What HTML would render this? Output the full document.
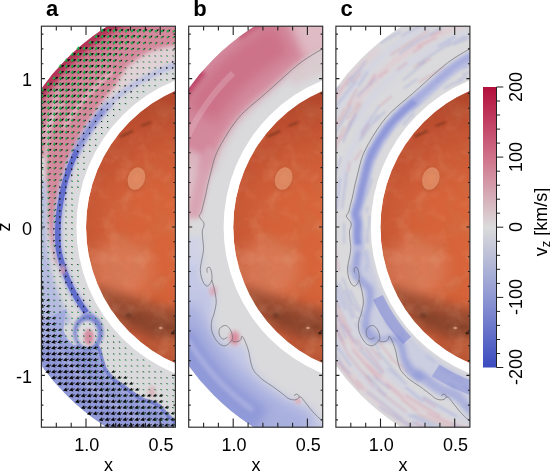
<!DOCTYPE html><html><head><meta charset="utf-8"><style>html,body{margin:0;padding:0;background:#fff;width:550px;height:471px;overflow:hidden}svg{display:block}text{font-family:"Liberation Sans",Arial,sans-serif}</style></head><body><svg width="550" height="471" viewBox="0 0 550 471"><defs><clipPath id="pc"><rect x="188.7" y="26.2" width="134" height="401"/></clipPath><clipPath id="an"><path d="M144.1,227 a237.5,237.5 0 1,0 475,0 a237.5,237.5 0 1,0 -475,0Z M223.6,227 a158,158 0 1,1 316,0 a158,158 0 1,1 -316,0Z" clip-rule="evenodd"/></clipPath><clipPath id="mc"><circle cx="381.6" cy="227" r="148.4"/></clipPath><filter id="b1" x="-50%" y="-50%" width="200%" height="200%"><feGaussianBlur stdDeviation="1"/></filter><filter id="b1_5" x="-50%" y="-50%" width="200%" height="200%"><feGaussianBlur stdDeviation="1.5"/></filter><filter id="b2" x="-50%" y="-50%" width="200%" height="200%"><feGaussianBlur stdDeviation="2"/></filter><filter id="b3" x="-50%" y="-50%" width="200%" height="200%"><feGaussianBlur stdDeviation="3"/></filter><filter id="b4" x="-50%" y="-50%" width="200%" height="200%"><feGaussianBlur stdDeviation="4"/></filter><filter id="b5" x="-50%" y="-50%" width="200%" height="200%"><feGaussianBlur stdDeviation="5"/></filter><filter id="b6" x="-50%" y="-50%" width="200%" height="200%"><feGaussianBlur stdDeviation="6"/></filter><filter id="b8" x="-50%" y="-50%" width="200%" height="200%"><feGaussianBlur stdDeviation="8"/></filter><filter id="b12" x="-50%" y="-50%" width="200%" height="200%"><feGaussianBlur stdDeviation="12"/></filter><radialGradient id="mg" gradientUnits="userSpaceOnUse" cx="366.6" cy="232" r="163.4"><stop offset="0" stop-color="#dc693b"/><stop offset="0.6" stop-color="#d46139"/><stop offset="0.86" stop-color="#c55534"/><stop offset="1" stop-color="#ad472c"/></radialGradient><filter id="txd" x="0" y="0" width="1" height="1"><feTurbulence type="fractalNoise" baseFrequency="0.05" numOctaves="3" seed="7"/><feColorMatrix type="matrix" values="0 0 0 0 0.55  0 0 0 0 0.22  0 0 0 0 0.1  1.8 0 0 0 -0.82"/></filter><filter id="txl" x="0" y="0" width="1" height="1"><feTurbulence type="fractalNoise" baseFrequency="0.06" numOctaves="3" seed="11"/><feColorMatrix type="matrix" values="0 0 0 0 0.98  0 0 0 0 0.6  0 0 0 0 0.42  0 1.8 0 0 -0.85"/></filter><linearGradient id="mtop" x1="0" y1="0" x2="0" y2="1"><stop offset="0" stop-color="#a03822" stop-opacity="0.7"/><stop offset="0.45" stop-color="#b0442a" stop-opacity="0.35"/><stop offset="1" stop-color="#b4452a" stop-opacity="0"/></linearGradient><linearGradient id="cb" x1="0" y1="0" x2="0" y2="1"><stop offset="0" stop-color="#b30f3c"/><stop offset="0.25" stop-color="#cf7189"/><stop offset="0.5" stop-color="#dbdbdb"/><stop offset="0.75" stop-color="#8f98d3"/><stop offset="1" stop-color="#3b4bbf"/></linearGradient><g id="mars" clip-path="url(#mc)"><circle cx="381.6" cy="227" r="148.4" fill="url(#mg)"/><ellipse cx="268" cy="270" rx="32" ry="30" fill="#e39a7c" opacity="0.42" filter="url(#b8)"/><rect x="233.2" y="78.6" width="148.4" height="120" fill="url(#mtop)"/><path d="M243,286 L290,300 L335,311 L335,339 L300,341 L268,326 L248,306Z" fill="#8c4a32" opacity="0.7" filter="url(#b5)"/><path d="M262,304 L300,317 L335,322 L335,333 L305,334 L275,322Z" fill="#6a3424" opacity="0.45" filter="url(#b4)"/><path d="M285,342 L335,340 L335,372 L275,372Z" fill="#a65838" opacity="0.35" filter="url(#b4)"/><ellipse cx="276" cy="315" rx="4" ry="2.2" fill="#4a2218" opacity="0.45" filter="url(#b1_5)"/><ellipse cx="320" cy="333" rx="1.8" ry="1.5" fill="#2a1410" opacity="0.8" filter="url(#b0_5)"/><ellipse cx="308" cy="328" rx="1.8" ry="1.3" fill="#e8b090" opacity="0.7" filter="url(#b0_5)"/><rect x="233.2" y="78.6" width="148.4" height="296.8" filter="url(#txd)" opacity="0.35"/><rect x="233.2" y="78.6" width="148.4" height="296.8" filter="url(#txl)" opacity="0.2"/><ellipse cx="283.1" cy="180.1" rx="9" ry="12" fill="#a84a2c" transform="rotate(18 283.1 180.1)" opacity="0.35" filter="url(#b1_5)"/><ellipse cx="283.6" cy="178.6" rx="8.5" ry="11.5" fill="#eba078" transform="rotate(18 283.6 178.6)" opacity="0.65" filter="url(#b1_8)"/><ellipse cx="284.1" cy="178.6" rx="4.5" ry="6" fill="#e28e64" transform="rotate(18 284.1 178.6)" opacity="0.5" filter="url(#b1)"/><path d="M267.6,136.8 L280,131" stroke="#5a2a1a" stroke-width="1.6" opacity="0.75" filter="url(#b1)"/><path d="M288.5,126.1 L298,122.3" stroke="#5a2a1a" stroke-width="1.6" opacity="0.65" filter="url(#b1)"/></g></defs><g transform="translate(-147.2,0)" clip-path="url(#pc)"><g clip-path="url(#an)"><rect x="188.7" y="26.2" width="134" height="401" fill="#dadadc"/><path d="M227.5,138 L231.5,131.2 L235.7,124.7 L240.3,118.3 L245.1,112.1 L250.2,106.1 L255.6,100.4 L261.5,95.2 L267.7,90.4 L274.1,85.9 L280.7,81.7 L287.5,77.8 L294.4,74.2 L301.2,70.6 L308.2,67.3 L315.3,64.3 L322.6,61.6 L330,59.3 L337.4,57.3 L344.9,55.6 L352.5,54.3 L360.2,53.2 L367.9,52.5 L375.5,52.1 L373.1,-17.9 L362.3,-17.2 L351.6,-16.2 L340.9,-14.6 L330.3,-12.6 L319.9,-10.1 L309.5,-7.1 L299.3,-3.7 L289.2,0.1 L279.3,4.4 L269.6,9.1 L260.1,14.3 L250.9,19.8 L241.9,25.8 L233.2,32.1 L224.7,38.8 L216.6,45.9 L208.8,53.4 L201.3,61.1 L194.2,69.2 L187.4,77.6 L181.1,86.3 L175.1,95.3 L169.5,104.5Z" fill="#e0d2d6" filter="url(#b2)"/><path d="M206.3,264.3 L204.9,259.2 L203.6,254.1 L202.7,249 L202.3,243.7 L202.1,238.5 L202,233.3 L202.1,228 L202.3,222.8 L202.7,217.6 L203.2,212.4 L203.9,207.3 L204.8,202.1 L205.7,197 L206.7,191.9 L207.8,186.9 L209.1,181.8 L210.5,176.9 L212.1,171.9 L213.8,167 L215.7,162.2 L217.6,157.4 L219.8,152.7 L222,148 L224.4,143.4 L227,138.9 L228.8,133.9 L231.3,129.4 L234.1,124.9 L236.8,120.5 L239.7,116.1 L242.7,111.8 L245.8,107.6 L248.9,103.2 L252,98.8 L255.2,94.5 L258.5,90.3 L262,86.1 L265,81.2 L267.9,76.1 L271.1,71 L274.6,66.3 L279.1,62.9 L283.7,59.6 L288.4,56.5 L293.2,53.5 L298.4,51.1 L303.8,49.5 L309.4,48.1 L314.9,46.8 L320.4,45.7 L325.8,44.4 L331.2,43 L336.6,41.7 L342,40.5 L347.5,39.6 L353,38.8 L358.5,38.1 L364,37.6 L369.5,37.3 L375,37.1 L373.3,-12.9 L366.3,-12.5 L359.3,-12 L352.4,-11.2 L345.5,-10.3 L338.6,-9.1 L331.8,-7.8 L324.9,-6.2 L318.2,-4.5 L311.5,-2.5 L304.8,-0.4 L298.3,2 L291.7,4.5 L285.3,7.2 L279,10.1 L272.7,13.2 L266.5,16.4 L260.4,19.9 L254.5,23.5 L248.6,27.3 L242.9,31.2 L237.2,35.3 L231.7,39.6 L226.6,44.4 L223.1,50.9 L219.7,57.4 L216.6,63.9 L213.8,70.5 L211.2,77.1 L208.8,83.7 L206.6,90.2 L204.5,96.7 L202.7,103.3 L201.2,109.8 L199.8,116.3 L198.6,122.7 L197.3,129 L196.2,135.2 L195.2,141.4 L194.5,147.6 L194,153.7 L193.6,159.8 L193.3,165.8 L193.2,171.8 L193.3,177.7 L193.6,183.6 L194,189.4 L194.7,195.2 L194.8,200.7 L194.8,206.3 L194.8,211.8 L195.1,217.2 L195.5,222.7 L196,228.1 L196.8,233.5 L197.6,238.8 L198.7,244.1 L199.8,249.3 L200.9,254.6 L201.9,259.8 L203.2,264.9Z" fill="#d48a9d" filter="url(#b2)"/><path d="M191.8,157.9 L192.5,148.6 L193.6,139.3 L195.2,129.9 L197.2,120.5 L199.1,110.7 L201.4,100.8 L204.3,90.9 L207.8,81.1 L211.5,71.1 L215.8,61.2 L220.7,51.3 L226.1,41.6 L224.2,39.3 L216.1,46.4 L208.4,53.8 L201,61.5 L194,69.5 L187.3,77.9 L181,86.5 L175,95.4 L169.5,104.5 L164.3,113.9 L159.6,123.5 L155.3,133.2 L151.4,143.2Z" fill="#d18699" filter="url(#b2)"/><path d="M209.9,92.8 L216.2,85.1 L222.9,77.6 L229.9,70.5 L237.2,63.7 L244.8,57.3 L252.7,51.2 L260.9,45.5 L269.4,40.1 L278,35.2 L286.9,30.6 L296,26.5 L305.3,22.8 L314.7,19.5 L324.3,16.7 L334,14.3 L343.8,12.3 L339.1,-14.3 L328.1,-12.1 L317.2,-9.4 L306.4,-6.2 L295.8,-2.5 L285.4,1.7 L275.2,6.3 L265.2,11.4 L255.5,17 L246,23 L236.8,29.4 L227.9,36.3 L219.3,43.5 L211.1,51.1 L203.2,59.1 L195.7,67.5 L188.6,76.2Z" fill="#c9637e" opacity="0.55" filter="url(#b4)"/><path d="M178.6,119 L183.6,110 L189.1,101.3 L194.9,92.7 L201.1,84.5 L207.7,76.5 L214.6,68.9 L221.9,61.6 L229.5,54.6 L237.4,47.9 L245.5,41.6 L254,35.7 L262.7,30.1 L271.7,25 L280.8,20.3 L274.2,6.8 L264.5,11.8 L254.9,17.3 L245.7,23.2 L236.7,29.5 L227.9,36.2 L219.5,43.3 L211.5,50.8 L203.7,58.6 L196.3,66.7 L189.3,75.2 L182.7,84 L176.5,93.1 L170.7,102.4 L165.3,112Z" fill="#b02a50" opacity="0.85" filter="url(#b2)"/><path d="M212.8,129.5 L217.6,121.5 L222.9,113.8 L228.5,106.3 L234.5,99.1 L240.8,92.2 L247.4,85.6 L254.4,79.3 L261.6,73.3 L258.5,69.4 L251.1,75.5 L244,81.9 L237.2,88.7 L230.7,95.8 L224.6,103.2 L218.8,110.9 L213.4,118.8 L208.4,127Z" fill="#ecd4da" opacity="0.5" filter="url(#b1_5)"/><path d="M186.9,148.3 L190.3,140.5 L194,132.8 L198,125.2 L202.3,117.8 L206.9,110.6 L211.8,103.6 L208.5,101.2 L203.5,108.4 L198.9,115.7 L194.5,123.3 L190.4,131 L186.7,138.8 L183.2,146.8Z" fill="#ecd4da" opacity="0.5" filter="url(#b1_5)"/><path d="M241,314.9 L236.5,308.9 L232.2,302.7 L228.2,296.3 L224.4,289.7 L221.1,282.8 L218.2,275.7 L215.5,268.5 L213.2,261.2 L211.2,253.7 L209.9,246.1 L209.6,238.3 L209.5,230.6 L209.8,222.9 L210.5,215.2 L211.5,207.6 L212.8,200.1 L214.2,192.5 L216,185.1 L218.1,177.7 L220.5,170.5 L223.3,163.3 L226.3,156.3 L229.7,149.5 L233.4,142.8 L237.2,136.2 L241.4,129.7 L245.8,123.5 L250.5,117.4 L255.4,111.6 L260.6,106 L254.3,99.6 L248.8,105.5 L243.5,111.7 L238.6,118 L234,124.6 L229.6,131.4 L225.6,138.3 L221.7,145.4 L218.1,152.6 L214.9,160 L212,167.5 L209.5,175.1 L207.3,182.9 L205.4,190.7 L203.9,198.6 L202.5,206.6 L201.5,214.6 L200.8,222.7 L200.5,230.8 L200.6,238.9 L201,247.1 L202.3,255.1 L204.4,263 L206.8,270.7 L209.5,278.3 L212.6,285.8 L216.1,293 L220,300 L224.2,306.8 L228.6,313.3 L233.3,319.7Z" fill="#a9aedf" opacity="0.9" filter="url(#b1_5)"/><path d="M259.6,104.9 L265.2,99.8 L271.3,95.2 L277.5,90.8 L283.9,86.8 L290.4,83 L297.1,79.5 L303.7,76 L310.5,72.8 L317.4,69.9 L324.5,67.3 L331.6,65.1 L338.8,63.1 L346.1,61.5 L353.5,60.2 L360.9,59.2 L368.3,58.5 L375.8,58.1 L375.5,52.1 L367.8,52.5 L360.1,53.2 L352.5,54.3 L344.9,55.6 L337.3,57.3 L329.8,59.3 L322.4,61.7 L315.2,64.4 L308,67.4 L301,70.7 L294.1,74.3 L287.2,77.9 L280.5,81.8 L273.9,86.1 L267.4,90.6 L261.2,95.4 L255.3,100.7Z" fill="#b4b9e2" opacity="0.75" filter="url(#b1_5)"/><path d="M236,311.1 L231.6,304.9 L227.6,298.6 L223.7,292 L220.3,285.1 L217.3,278.1 L214.5,270.9 L212.1,263.6 L210,256.1 L208.4,248.5 L207.9,240.8 L207.8,233.1 L208,225.3 L208.5,217.7 L209.4,210 L210.6,202.4 L212,194.9 L213.7,187.4 L215.6,180 L218,172.7 L220.6,165.5 L223.5,158.4 L226.8,151.5 L221.8,149 L218.4,156.2 L215.4,163.5 L212.6,170.9 L210.3,178.4 L208.2,186.1 L206.5,193.8 L205.1,201.6 L203.8,209.5 L202.9,217.3 L202.4,225.3 L202.2,233.3 L202.4,241.3 L202.9,249.2 L204.5,257.1 L206.7,264.8 L209.1,272.3 L211.9,279.8 L215,287 L218.6,294.1 L222.5,300.9 L226.7,307.5 L231.1,313.9Z" fill="#5a66c9" opacity="0.9" filter="url(#b1_2)"/><path d="M223.9,156.8 L227.3,149.8 L231,143 L234.8,136.3 L239,129.7 L243.4,123.4 L248.1,117.2 L253.1,111.2 L249.4,107.9 L244.2,114 L239.4,120.4 L234.8,126.9 L230.6,133.7 L226.6,140.5 L222.8,147.6 L219.4,154.7Z" fill="#6a75cd" opacity="0.55" filter="url(#b1_5)"/><path d="M218.8,321 L214.8,313.6 L211,305.9 L207.6,298.1 L204.6,290.2 L201.9,282.2 L199.6,274 L197.7,265.7 L196.1,257.4 L194.9,249 L194.1,240.5 L193.7,232 L193.7,223.5 L194,215 L193.8,206.5 L194,197.9 L193,188.9 L192.4,179.8 L143.9,167.7 L141.5,178.5 L139.5,189.4 L138.1,200.4 L137.1,211.4 L136.7,222.5 L136.7,233.5 L137.3,244.6 L138.3,255.6 L139.9,266.6 L141.9,277.4 L144.4,288.2 L147.4,298.9 L150.9,309.4 L154.9,319.7 L159.3,329.9 L164.2,339.8 L169.5,349.5Z" fill="#b2b8df" opacity="0.9" filter="url(#b2)"/><path d="M214.1,308.7 L211.3,319.8 L210.7,330.4 L214.3,338.8 L220.9,345.2 L237.8,343.1 L246.1,347 L248.6,355.8 L250.9,365.6 L255.2,373.8 L261.4,380 L268.6,385 L275.7,390.1 L282.8,395.3 L290.3,400 L299.2,401.9 L306.9,405.9 L313.4,413.7 L320.6,420.5 L328.2,427.6 L337.1,430.7 L346.3,432.5 L355.6,433.9 L365,434.9 L374.4,435.4 L373.1,471.9 L362.1,471.2 L351.1,470.1 L340.2,468.5 L329.3,466.3 L318.6,463.7 L308,460.7 L297.5,457.1 L287.2,453.1 L277.1,448.6 L267.3,443.7 L257.6,438.3 L248.2,432.5 L239.1,426.3 L230.3,419.6 L221.7,412.6 L213.5,405.2 L205.7,397.4 L198.2,389.3 L191,380.9 L184.3,372.2 L177.9,363.1 L172,353.8 L166.5,344.2 L161.4,334.4Z" fill="#a4abde" filter="url(#b2_5)"/><path d="M207.5,335.8 L211.7,343.8 L219.5,349.2 L236.4,346.7 L242.9,351.9 L245.4,360.9 L248,370.4 L252.5,378.2 L258.8,384.3 L265.9,389.2 L273,394.3 L280.1,399.5 L287.4,404.3 L296.2,406.2 L304.2,409.5 L310.5,417.2 L317.6,424.1 L325.2,430.7 L333.6,435.1 L342.7,437 L351.9,438.5 L347.6,469.6 L337,467.9 L326.5,465.7 L316.2,463.1 L305.9,460 L295.8,456.5 L285.9,452.5 L276.2,448.1 L266.6,443.3 L257.3,438.1 L248.2,432.5 L239.4,426.5 L230.8,420.1 L222.5,413.3 L214.6,406.2 L206.9,398.7 L199.6,390.9 L192.6,382.8 L186,374.4 L179.7,365.8 L173.9,356.8Z" fill="#8c94d6" opacity="0.8" filter="url(#b4)"/><path d="M201.9,339.3 L207,347.2 L212.5,354.8 L218.3,362.1 L224.4,369.2 L230.9,376 L237.6,382.6 L244.6,388.8 L251.9,394.7 L259.4,400.2 L267.2,405.5 L275.2,410.4 L283.4,414.9 L291.8,419 L300.4,422.8 L309.1,426.2 L307.4,430.9 L298.5,427.4 L289.7,423.6 L281.1,419.3 L272.7,414.7 L264.5,409.7 L256.6,404.3 L248.8,398.6 L241.4,392.6 L234.2,386.2 L227.3,379.5 L220.7,372.6 L214.4,365.3 L208.5,357.8 L202.9,350 L197.6,342Z" fill="#bcc1e8" opacity="0.5" filter="url(#b2)"/><path d="M243.9,342.6 L248.6,348.9 L250.7,357.9 L253.4,366.9 L258.3,374.1 L264.4,379.8 L271.4,384.5 L278.2,389.4 L285,394.5 L292.4,398.4 L300.8,400.4 L308.1,404.6 L314.3,412 L321.2,418.6 L328.5,425.4 L336.9,428.6 L345.8,430.4 L345.1,434.3 L336.1,432.5 L327.5,429.2 L320,422.4 L312.9,415.8 L306.6,408.3 L299.1,404 L290.6,401.9 L283,397.9 L276,392.8 L269.1,387.7 L262,383 L255.7,377.1 L250.7,369.9 L247.9,360.8 L245.7,351.6 L240.9,345.1Z" fill="#6570cc" opacity="0.7" filter="url(#b1_2)"/><ellipse cx="235.5" cy="332" rx="15" ry="18" fill="#6e79ce" opacity="0.9" filter="url(#b1_5)"/><ellipse cx="234.5" cy="334" rx="10.5" ry="13.5" fill="#dcdcde" filter="url(#b1_5)"/><ellipse cx="236" cy="337" rx="5" ry="8" fill="#d690a4" filter="url(#b1_5)"/><ellipse cx="210" cy="270" rx="3" ry="5" fill="#d8a0b0" opacity="0.8" filter="url(#b1_5)"/><ellipse cx="299" cy="392" rx="3" ry="6" fill="#dcaab6" filter="url(#b2)"/></g><path d="M248.7,32L250.9,30.5M254.7,32L256.8,30.5M260.6,32L262.7,30.5M266.6,32L268.7,30.5M272.5,32L274.6,30.5M278.4,32L280.6,30.5M284.4,32L286.5,30.5M290.3,32L292.4,30.5M296.2,32L298.3,30.6M302.2,32L304.2,30.7M308.1,32L310,30.7M314.1,32L315.9,30.8M320,32L321.8,30.8M242.8,38L244.9,36.5M248.7,38L250.9,36.5M254.7,38L256.8,36.5M260.6,38L262.7,36.5M266.6,38L268.7,36.5M272.5,38L274.6,36.5M278.4,38L280.6,36.5M284.4,38L286.4,36.6M290.3,38L292.1,36.7M296.2,38L298,36.8M302.2,38L303.8,36.9M308.1,38L309.7,36.9M314.1,38L315.5,37M320,38L321.4,37M236.8,44L239,42.5M242.8,44L244.9,42.5M248.7,44L250.9,42.5M254.7,44L256.8,42.5M260.6,44L262.7,42.5M266.6,44L268.7,42.5M272.5,44L274.6,42.5M278.4,44L280.3,42.6M284.4,44L286.1,42.8M290.3,44L291.8,42.9M296.2,44L297.6,43M302.2,44L303.5,43.1M308.1,44L309.3,43.1M314.1,44L315.2,43.1M320,44L321.2,43.1M225,49.9L227.1,48.4M230.9,49.9L233,48.4M236.8,49.9L239,48.4M242.8,49.9L244.9,48.4M248.7,49.9L250.9,48.4M254.7,49.9L256.8,48.4M260.6,49.9L262.7,48.4M266.6,49.9L268.6,48.5M272.5,49.9L274.3,48.7M278.4,49.9L280,48.8M284.4,49.9L285.8,48.9M290.3,49.9L291.5,49.1M296.2,49.9L297.4,49.1M219,55.9L221.2,54.4M225,55.9L227.1,54.4M230.9,55.9L233,54.4M236.8,55.9L239,54.4M242.8,55.9L244.9,54.4M248.7,55.9L250.9,54.4M254.7,55.9L256.8,54.4M260.6,55.9L262.6,54.5M266.6,55.9L268.3,54.7M272.5,55.9L274,54.8M278.4,55.9L279.7,55M284.4,55.9L285.5,55.1M213.1,61.8L215.2,60.3M219,61.8L221.2,60.3M225,61.8L227.1,60.3M230.9,61.8L233,60.3M236.8,61.8L239,60.3M242.8,61.8L244.9,60.3M248.7,61.8L250.9,60.3M254.7,61.8L256.8,60.3M260.6,61.8L262.4,60.6M266.6,61.8L268,60.8M272.5,61.8L273.7,61M278.4,61.8L279.6,61M207.1,67.8L209.3,66.3M213.1,67.8L215.2,66.3M219,67.8L221.2,66.3M225,67.8L227.1,66.3M230.9,67.8L233,66.3M236.8,67.8L239,66.3M242.8,67.8L244.9,66.3M248.7,67.8L250.9,66.3M254.7,67.8L256.6,66.4M260.6,67.8L262.2,66.7M266.6,67.8L267.8,66.9M207.1,73.8L209.3,72.3M213.1,73.8L215.2,72.3M219,73.8L221.2,72.3M225,73.8L227.1,72.3M230.9,73.8L233,72.3M236.8,73.8L239,72.3M242.8,73.8L244.9,72.3M248.7,73.8L250.8,72.3M254.7,73.8L256.4,72.5M260.6,73.8L262,72.8M266.6,73.8L267.7,72.9M201.2,79.7L203.3,78.2M207.1,79.7L209.3,78.2M213.1,79.7L215.2,78.2M219,79.7L221.2,78.2M225,79.7L227.1,78.2M230.9,79.7L233,78.2M236.8,79.7L239,78.2M242.8,79.7L244.9,78.3M248.7,79.7L250.5,78.5M254.7,79.7L256.2,78.7M260.6,79.7L261.8,78.9M195.3,85.7L197.4,84.2M201.2,85.7L203.3,84.2M207.1,85.7L209.3,84.2M213.1,85.7L215.2,84.2M219,85.7L221.2,84.2M225,85.7L227.1,84.2M230.9,85.7L233,84.2M236.8,85.7L239,84.2M242.8,85.7L244.6,84.4M248.7,85.7L250.3,84.6M254.7,85.7L256,84.8M260.6,85.7L261.8,84.9M189.3,91.6L191.5,90.1M195.3,91.6L197.4,90.1M201.2,91.6L203.3,90.1M207.1,91.6L209.3,90.1M213.1,91.6L215.2,90.1M219,91.6L221.2,90.1M225,91.6L227.1,90.1M230.9,91.6L233,90.1M236.8,91.6L238.8,90.3M242.8,91.6L244.4,90.5M248.7,91.6L250.1,90.7M254.7,91.6L255.8,90.8M189.3,97.6L191.4,96.1M195.3,97.6L197.4,96.1M201.2,97.6L203.3,96.1M207.1,97.6L209.3,96.1M213.1,97.6L215.2,96.1M219,97.6L221.2,96.1M225,97.6L227.1,96.1M230.9,97.6L232.9,96.2M236.8,97.6L238.6,96.4M242.8,97.6L244.2,96.6M248.7,97.6L249.9,96.8M189.3,103.6L191.4,102.1M195.3,103.6L197.4,102.1M201.2,103.6L203.3,102.1M207.1,103.6L209.3,102.1M213.1,103.6L215.2,102.1M219,103.6L221.2,102.1M225,103.6L227.1,102.1M230.9,103.6L232.7,102.3M236.8,103.6L238.4,102.5M242.8,103.6L244,102.7M189.3,109.5L191.3,108.1M195.3,109.5L197.3,108.1M201.2,109.5L203.3,108.1M207.1,109.5L209.2,108.1M213.1,109.5L215.2,108M219,109.5L221.2,108M225,109.5L226.9,108.2M230.9,109.5L232.5,108.4M236.8,109.5L238.1,108.6M242.8,109.5L244,108.7M189.3,115.5L191.3,114.1M195.3,115.5L197.3,114.1M201.2,115.5L203.2,114.1M207.1,115.5L209.2,114M213.1,115.5L215.2,114M219,115.5L221,114.1M225,115.5L226.7,114.3M230.9,115.5L232.3,114.5M236.8,115.5L238,114.7M189.3,121.4L191.3,120.1M195.3,121.4L197.2,120.1M201.2,121.4L203.2,120.1M207.1,121.4L209.2,120M213.1,121.4L215.1,120M219,121.4L220.8,120.2M225,121.4L226.5,120.4M230.9,121.4L232.1,120.6M189.3,127.4L191.2,126.1M195.3,127.4L197.2,126.1M201.2,127.4L203.1,126M207.1,127.4L209.1,126M213.1,127.4L214.9,126.1M219,127.4L220.6,126.3M225,127.4L226.3,126.5M230.9,127.4L232.1,126.6M189.3,133.4L191.2,132.1M195.3,133.4L197.1,132.1M201.2,133.4L203.1,132M207.1,133.4L209.1,132M213.1,133.4L214.8,132.2M219,133.4L220.5,132.3M225,133.4L226.1,132.5M189.3,139.3L191.1,138.1M195.3,139.3L197.1,138M201.2,139.3L203,138M207.1,139.3L208.9,138.1M213.1,139.3L214.6,138.3M219,139.3L220.3,138.4M225,139.3L226.1,138.5M189.3,145.3L191.1,144.1M195.3,145.3L197,144M201.2,145.3L203,144M207.1,145.3L208.7,144.2M213.1,145.3L214.5,144.3M219,145.3L220.2,144.5M195.3,151.2L197,150M201.2,151.2L202.9,150.1M207.1,151.2L208.6,150.2M213.1,151.2L214.4,150.3M219,151.2L220.2,150.4M195.3,157.2L196.9,156M201.2,157.2L202.7,156.1M207.1,157.2L208.5,156.2M213.1,157.2L214.3,156.4M195.3,163.2L196.9,162.1M201.2,163.2L202.6,162.2M207.1,163.2L208.4,162.3M213.1,163.2L214.3,162.3M195.3,169.1L196.8,168.1M201.2,169.1L202.6,168.2M207.1,169.1L208.4,168.3M195.3,175.1L196.7,174.1M201.2,175.1L202.5,174.2M207.1,175.1L208.3,174.3M195.3,181L196.6,180.1M201.2,181L202.5,180.2M207.1,181L208.3,180.2M195.3,187L196.6,186.1M201.2,187L202.4,186.1M195.3,193L196.6,192.1M201.2,193L202.4,192.1M195.3,198.9L196.5,198M201.2,198.9L202.4,198.1M195.3,204.9L196.5,204M201.2,204.9L202.4,204.1M195.3,210.8L196.5,210M201.2,210.8L202.4,210M195.3,216.8L196.5,215.9M201.2,216.8L202.4,216M201.2,222.8L202.4,221.9M201.2,246.6L202.4,245.8M191.1,281.9L190.3,282.1M191.4,287.8L190.3,288.1M191.6,293.7L190.3,294M191.9,299.5L190.3,300M197.1,299.8L196.2,300M192.2,305.4L190.3,305.9M197.4,305.6L196.2,305.9M192.2,311.4L190.3,311.9M197.7,311.5L196.2,311.9M192.2,317.3L190.3,317.9M198.1,317.4L196.2,317.9M203.3,317.6L202.2,317.9M192.2,323.3L190.3,323.8M198.2,323.3L196.2,323.8M203.6,323.4L202.2,323.8M192.2,329.3L190.3,329.8M198.2,329.3L196.2,329.8M204,329.3L202.2,329.8M209.1,329.5L208.1,329.8M192.2,335.2L190.3,335.7M198.2,335.2L196.2,335.7M204,335.2L202.2,335.7M209.5,335.4L208.1,335.7M192.2,341.2L190.3,341.7M198.2,341.2L196.2,341.7M204.1,341.2L202.2,341.7M209.8,341.2L208.1,341.7M215.2,341.4L214,341.7M192.2,347.1L190.3,347.7M198.2,347.1L196.2,347.7M204.1,347.1L202.2,347.7M210,347.2L208.1,347.7M215.7,347.2L214,347.7M221.5,347.3L220,347.7M227.6,347.2L225.9,347.7M233.6,347.2L231.9,347.7M239.5,347.2L237.8,347.7M245.3,347.2L243.7,347.7M192.2,353.1L190.3,353.6M198.2,353.1L196.2,353.6M204.1,353.1L202.2,353.6M210,353.1L208.1,353.6M216,353.1L214.1,353.6M221.9,353.1L220,353.6M227.9,353.1L225.9,353.6M233.8,353.1L231.9,353.6M239.7,353.1L237.8,353.6M245.4,353.2L243.7,353.6M192.2,359.1L190.3,359.6M198.2,359.1L196.2,359.6M204.1,359.1L202.2,359.6M210,359.1L208.1,359.6M216,359.1L214.1,359.6M221.9,359.1L220,359.6M227.9,359.1L225.9,359.6M233.8,359.1L231.9,359.6M239.7,359.1L237.8,359.6M245.5,359.1L243.7,359.6M198.2,365L196.2,365.5M204.1,365L202.2,365.5M210,365L208.1,365.5M216,365L214.1,365.5M221.9,365L220,365.5M227.9,365L225.9,365.5M233.8,365L231.9,365.5M239.7,365L237.8,365.5M245.5,365.1L243.8,365.5M251.2,365.1L249.7,365.5M198.2,371L196.2,371.5M204.1,371L202.2,371.5M210,371L208.1,371.5M216,371L214.1,371.5M221.9,371L220,371.5M227.9,371L225.9,371.5M233.8,371L231.9,371.5M239.7,371L237.8,371.5M245.6,371L243.8,371.5M251.3,371.1L249.7,371.5M262.9,371.2L261.6,371.5M204.1,376.9L202.2,377.5M210,376.9L208.1,377.5M216,376.9L214.1,377.5M221.9,376.9L220,377.5M227.9,376.9L225.9,377.5M233.8,376.9L231.9,377.5M239.7,376.9L237.8,377.5M245.7,376.9L243.8,377.5M251.4,377L249.7,377.5M257.2,377L255.6,377.5M263,377.1L261.6,377.5M268.8,377.1L267.5,377.5M274.6,377.1L273.4,377.5M210,382.9L208.1,383.4M216,382.9L214.1,383.4M221.9,382.9L220,383.4M227.9,382.9L225.9,383.4M233.8,382.9L231.9,383.4M239.7,382.9L237.8,383.4M245.7,382.9L243.8,383.4M251.5,382.9L249.7,383.4M257.3,383L255.6,383.4M263.1,383L261.6,383.4M269,383L267.5,383.4M274.8,383.1L273.4,383.4M280.6,383.1L279.4,383.4M216,388.9L214.1,389.4M221.9,388.9L220,389.4M227.9,388.9L225.9,389.4M233.8,388.9L231.9,389.4M239.7,388.9L237.8,389.4M245.7,388.9L243.8,389.4M251.6,388.9L249.7,389.4M257.5,388.9L255.6,389.4M263.3,388.9L261.6,389.4M269.1,388.9L267.5,389.4M275,389L273.4,389.4M280.8,389L279.4,389.4M286.6,389L285.3,389.4M221.9,394.8L220,395.3M227.9,394.8L225.9,395.3M233.8,394.8L231.9,395.3M239.7,394.8L237.8,395.3M245.7,394.8L243.8,395.3M251.6,394.8L249.7,395.3M257.6,394.8L255.6,395.3M263.5,394.8L261.6,395.3M269.3,394.9L267.5,395.3M275.1,394.9L273.4,395.3M280.9,394.9L279.4,395.3M286.8,395L285.3,395.3M292.6,395L291.3,395.3M298.5,395L297.2,395.3M304.4,395L303.1,395.3M310.3,395L309.1,395.3M227.9,400.8L225.9,401.3M233.8,400.8L231.9,401.3M239.7,400.8L237.8,401.3M245.7,400.8L243.8,401.3M251.6,400.8L249.7,401.3M257.6,400.8L255.6,401.3M263.5,400.8L261.6,401.3M269.4,400.8L267.5,401.3M275.3,400.8L273.5,401.3M281.1,400.8L279.4,401.3M286.9,400.9L285.3,401.3M292.8,400.9L291.3,401.3M298.7,400.9L297.2,401.3M304.6,400.9L303.1,401.3M310.4,400.9L309.1,401.3M233.8,406.7L231.9,407.3M239.7,406.7L237.8,407.3M245.7,406.7L243.8,407.3M251.6,406.7L249.7,407.3M257.6,406.7L255.6,407.3M263.5,406.7L261.6,407.3M269.4,406.7L267.5,407.3M275.4,406.7L273.5,407.3M281.3,406.8L279.4,407.3M287.1,406.8L285.3,407.3M293,406.8L291.3,407.3M298.9,406.8L297.2,407.3M304.8,406.8L303.1,407.3M310.6,406.9L309.1,407.3M316.3,406.9L315,407.3M239.7,412.7L237.8,413.2M245.7,412.7L243.8,413.2M251.6,412.7L249.7,413.2M257.6,412.7L255.6,413.2M263.5,412.7L261.6,413.2M269.4,412.7L267.5,413.2M275.4,412.7L273.5,413.2M281.3,412.7L279.4,413.2M287.3,412.7L285.3,413.2M293.2,412.7L291.3,413.2M299.1,412.7L297.2,413.2M304.9,412.7L303.2,413.2M310.7,412.8L309.1,413.2M316.5,412.8L315,413.2M322.3,412.9L321,413.2M251.6,418.7L249.7,419.2M257.6,418.7L255.6,419.2M263.5,418.7L261.6,419.2M269.4,418.7L267.5,419.2M275.4,418.7L273.5,419.2M281.3,418.7L279.4,419.2M287.3,418.7L285.3,419.2M293.2,418.7L291.3,419.2M299.1,418.7L297.2,419.2M305.1,418.7L303.2,419.2M310.8,418.7L309.1,419.2M316.6,418.8L315,419.2M322.4,418.8L321,419.2M257.6,424.6L255.6,425.1M263.5,424.6L261.6,425.1M269.4,424.6L267.5,425.1M275.4,424.6L273.5,425.1M281.3,424.6L279.4,425.1M287.3,424.6L285.3,425.1M293.2,424.6L291.3,425.1M299.1,424.6L297.2,425.1M305.1,424.6L303.2,425.1M311,424.6L309.1,425.1M316.8,424.7L315,425.1M322.6,424.7L321,425.1" stroke="#111" stroke-width="0.9" fill="none"/><path d="M253,29.1L251.6,31.6L250.1,29.5ZM258.9,29.1L257.5,31.6L256.1,29.5ZM264.9,29.1L263.5,31.6L262,29.5ZM270.8,29.1L269.4,31.6L267.9,29.5ZM276.7,29.1L275.4,31.6L273.9,29.5ZM282.7,29.1L281.3,31.6L279.8,29.5ZM288.6,29.1L287.2,31.6L285.8,29.5ZM294.6,29.1L293.2,31.6L291.7,29.5ZM300.4,29.1L299,31.6L297.6,29.6ZM306.1,29.3L304.9,31.6L303.5,29.7ZM311.9,29.4L310.7,31.7L309.4,29.8ZM317.7,29.5L316.5,31.7L315.3,29.9ZM323.5,29.6L322.4,31.7L321.1,30ZM247,35L245.7,37.6L244.2,35.4ZM253,35L251.6,37.6L250.1,35.4ZM258.9,35L257.5,37.6L256.1,35.4ZM264.9,35L263.5,37.6L262,35.4ZM270.8,35L269.4,37.6L267.9,35.4ZM276.7,35L275.4,37.6L273.9,35.4ZM282.7,35L281.3,37.6L279.8,35.4ZM288.4,35.2L287.1,37.6L285.7,35.6ZM294,35.4L292.8,37.6L291.5,35.8ZM299.7,35.6L298.6,37.7L297.4,35.9ZM305.4,35.7L304.4,37.7L303.2,36ZM311.2,35.8L310.2,37.7L309.1,36.2ZM317,36L316,37.7L315,36.2ZM322.8,36L321.9,37.7L320.9,36.3ZM241.1,41L239.7,43.5L238.2,41.4ZM247,41L245.7,43.5L244.2,41.4ZM253,41L251.6,43.5L250.1,41.4ZM258.9,41L257.5,43.5L256.1,41.4ZM264.9,41L263.5,43.5L262,41.4ZM270.8,41L269.4,43.5L267.9,41.4ZM276.7,41L275.3,43.5L273.8,41.5ZM282.2,41.3L281,43.6L279.7,41.7ZM287.8,41.6L286.7,43.6L285.5,41.9ZM293.3,41.8L292.4,43.7L291.3,42.1ZM299,42L298.1,43.7L297.1,42.3ZM304.7,42.2L303.9,43.7L303,42.4ZM310.5,42.3L309.7,43.7L308.9,42.5ZM316.4,42.3L315.7,43.7L314.8,42.6ZM322.4,42.3L321.6,43.7L320.8,42.6ZM229.2,46.9L227.8,49.5L226.4,47.4ZM235.2,46.9L233.8,49.5L232.3,47.4ZM241.1,46.9L239.7,49.5L238.2,47.4ZM247,46.9L245.7,49.5L244.2,47.4ZM253,46.9L251.6,49.5L250.1,47.4ZM258.9,46.9L257.5,49.5L256.1,47.4ZM264.9,46.9L263.5,49.5L262,47.4ZM270.6,47.1L269.3,49.5L267.9,47.5ZM276.1,47.4L274.9,49.6L273.7,47.8ZM281.6,47.7L280.6,49.6L279.5,48ZM287.2,48L286.3,49.6L285.3,48.2ZM292.7,48.2L291.9,49.7L291.1,48.5ZM298.6,48.3L297.8,49.7L297,48.5ZM301.7,49.5h0.9v0.9h-0.9ZM307.7,49.5h0.9v0.9h-0.9ZM313.6,49.5h0.9v0.9h-0.9ZM319.6,49.5h0.9v0.9h-0.9ZM223.3,52.9L221.9,55.5L220.4,53.3ZM229.2,52.9L227.8,55.5L226.4,53.3ZM235.2,52.9L233.8,55.5L232.3,53.3ZM241.1,52.9L239.7,55.5L238.2,53.3ZM247,52.9L245.7,55.5L244.2,53.3ZM253,52.9L251.6,55.5L250.1,53.3ZM258.9,52.9L257.5,55.5L256.1,53.3ZM264.7,53L263.3,55.5L261.9,53.4ZM270,53.5L268.9,55.5L267.7,53.8ZM275.5,53.8L274.5,55.6L273.5,54.1ZM281,54.1L280.2,55.6L279.3,54.3ZM286.7,54.2L286,55.6L285.1,54.5ZM289.9,55.4h0.9v0.9h-0.9ZM295.8,55.4h0.9v0.9h-0.9ZM301.7,55.4h0.9v0.9h-0.9ZM307.7,55.4h0.9v0.9h-0.9ZM313.6,55.4h0.9v0.9h-0.9ZM319.6,55.4h0.9v0.9h-0.9ZM217.3,58.9L216,61.4L214.5,59.3ZM223.3,58.9L221.9,61.4L220.4,59.3ZM229.2,58.9L227.8,61.4L226.4,59.3ZM235.2,58.9L233.8,61.4L232.3,59.3ZM241.1,58.9L239.7,61.4L238.2,59.3ZM247,58.9L245.7,61.4L244.2,59.3ZM253,58.9L251.6,61.4L250.1,59.3ZM258.9,58.9L257.5,61.4L256.1,59.3ZM264.2,59.3L263.1,61.5L261.8,59.7ZM269.5,59.7L268.6,61.5L267.5,60ZM274.9,60.1L274.1,61.6L273.3,60.4ZM280.8,60.2L280,61.6L279.2,60.4ZM283.9,61.4h0.9v0.9h-0.9ZM289.9,61.4h0.9v0.9h-0.9ZM295.8,61.4h0.9v0.9h-0.9ZM301.7,61.4h0.9v0.9h-0.9ZM307.7,61.4h0.9v0.9h-0.9ZM313.6,61.4h0.9v0.9h-0.9ZM319,63L319.6,60.8L321.1,62.1ZM211.4,64.8L210,67.4L208.5,65.2ZM217.3,64.8L216,67.4L214.5,65.2ZM223.3,64.8L221.9,67.4L220.4,65.2ZM229.2,64.8L227.8,67.4L226.4,65.2ZM235.2,64.8L233.8,67.4L232.3,65.2ZM241.1,64.8L239.7,67.4L238.2,65.2ZM247,64.8L245.7,67.4L244.2,65.2ZM253,64.8L251.6,67.4L250.1,65.2ZM258.5,65.1L257.3,67.4L255.9,65.5ZM263.8,65.5L262.8,67.5L261.7,65.9ZM269.1,66L268.3,67.5L267.4,66.3ZM272,67.3h0.9v0.9h-0.9ZM278,67.3h0.9v0.9h-0.9ZM283.9,67.3h0.9v0.9h-0.9ZM289.9,67.3h0.9v0.9h-0.9ZM295.8,67.3h0.9v0.9h-0.9ZM301.7,67.3h0.9v0.9h-0.9ZM307.2,68.9L307.7,66.8L309.2,68.1ZM313.1,68.9L313.6,66.8L315.2,68.1ZM319,68.9L319.6,66.8L321.1,68.1ZM211.4,70.8L210,73.3L208.5,71.2ZM217.3,70.8L216,73.3L214.5,71.2ZM223.3,70.8L221.9,73.3L220.4,71.2ZM229.2,70.8L227.8,73.3L226.4,71.2ZM235.2,70.8L233.8,73.3L232.3,71.2ZM241.1,70.8L239.7,73.3L238.2,71.2ZM247,70.8L245.7,73.3L244.2,71.2ZM252.8,70.9L251.5,73.4L250,71.3ZM258.2,71.3L257,73.4L255.8,71.7ZM263.4,71.8L262.5,73.5L261.5,72.1ZM268.9,72.1L268.1,73.5L267.3,72.4ZM272,73.3h0.9v0.9h-0.9ZM278,73.3h0.9v0.9h-0.9ZM283.9,73.3h0.9v0.9h-0.9ZM289.9,73.3h0.9v0.9h-0.9ZM295.3,74.9L295.8,72.7L297.3,74ZM301.2,74.9L301.7,72.7L303.3,74ZM307.2,74.9L307.7,72.7L309.2,74ZM313.6,73.3h0.9v0.9h-0.9ZM319.6,73.3h0.9v0.9h-0.9ZM205.5,76.7L204.1,79.3L202.6,77.2ZM211.4,76.7L210,79.3L208.5,77.2ZM217.3,76.7L216,79.3L214.5,77.2ZM223.3,76.7L221.9,79.3L220.4,77.2ZM229.2,76.7L227.8,79.3L226.4,77.2ZM235.2,76.7L233.8,79.3L232.3,77.2ZM241.1,76.7L239.7,79.3L238.2,77.2ZM246.9,76.8L245.6,79.3L244.1,77.2ZM252.3,77.2L251.2,79.4L249.9,77.6ZM257.7,77.6L256.7,79.4L255.7,77.9ZM263.1,78L262.3,79.5L261.4,78.3ZM266.1,79.3h0.9v0.9h-0.9ZM272,79.3h0.9v0.9h-0.9ZM278,79.3h0.9v0.9h-0.9ZM283.4,80.9L283.9,78.7L285.5,80ZM289.3,80.9L289.9,78.7L291.4,80ZM295.3,80.9L295.8,78.7L297.3,80ZM301.7,79.3h0.9v0.9h-0.9ZM307.7,79.3h0.9v0.9h-0.9ZM313.6,79.3h0.9v0.9h-0.9ZM199.5,82.7L198.1,85.3L196.7,83.1ZM205.5,82.7L204.1,85.3L202.6,83.1ZM211.4,82.7L210,85.3L208.5,83.1ZM217.3,82.7L216,85.3L214.5,83.1ZM223.3,82.7L221.9,85.3L220.4,83.1ZM229.2,82.7L227.8,85.3L226.4,83.1ZM235.2,82.7L233.8,85.3L232.3,83.1ZM241.1,82.7L239.7,85.3L238.2,83.1ZM246.5,83.1L245.3,85.3L244,83.5ZM251.9,83.5L250.8,85.4L249.7,83.8ZM257.2,83.9L256.4,85.4L255.5,84.1ZM263,84L262.2,85.4L261.4,84.3ZM266.1,85.2h0.9v0.9h-0.9ZM271.5,86.8L272,84.7L273.6,85.9ZM277.5,86.8L278,84.7L279.5,85.9ZM283.4,86.8L283.9,84.7L285.5,85.9ZM289.9,85.2h0.9v0.9h-0.9ZM295.8,85.2h0.9v0.9h-0.9ZM301.7,85.2h0.9v0.9h-0.9ZM193.6,88.7L192.2,91.2L190.7,89.1ZM199.5,88.7L198.1,91.2L196.7,89.1ZM205.5,88.7L204.1,91.2L202.6,89.1ZM211.4,88.7L210,91.2L208.5,89.1ZM217.3,88.7L216,91.2L214.5,89.1ZM223.3,88.7L221.9,91.2L220.4,89.1ZM229.2,88.7L227.8,91.2L226.4,89.1ZM235.2,88.7L233.8,91.2L232.3,89.1ZM240.7,88.9L239.5,91.3L238.1,89.3ZM246.1,89.3L245,91.3L243.9,89.7ZM251.4,89.8L250.6,91.4L249.6,90ZM257,90L256.3,91.4L255.4,90.2ZM260.2,91.2h0.9v0.9h-0.9ZM265.6,92.8L266.1,90.6L267.6,91.9ZM271.5,92.8L272,90.6L273.6,91.9ZM277.5,92.8L278,90.6L279.5,91.9ZM283.9,91.2h0.9v0.9h-0.9ZM289.9,91.2h0.9v0.9h-0.9ZM193.5,94.7L192.2,97.2L190.7,95.1ZM199.5,94.6L198.1,97.2L196.6,95.1ZM205.5,94.6L204.1,97.2L202.6,95ZM211.4,94.6L210,97.2L208.5,95ZM217.3,94.6L216,97.2L214.5,95ZM223.3,94.6L221.9,97.2L220.4,95ZM229.2,94.6L227.8,97.2L226.4,95ZM234.9,94.8L233.6,97.2L232.2,95.2ZM240.3,95.2L239.2,97.3L238,95.5ZM245.6,95.6L244.7,97.3L243.7,95.9ZM251.1,96L250.3,97.4L249.5,96.2ZM254.2,97.1h0.9v0.9h-0.9ZM259.6,98.7L260.2,96.6L261.7,97.9ZM265.6,98.7L266.1,96.6L267.6,97.9ZM272,97.1h0.9v0.9h-0.9ZM278,97.1h0.9v0.9h-0.9ZM283.9,97.1h0.9v0.9h-0.9ZM193.4,100.7L192.1,103.1L190.7,101.1ZM199.4,100.6L198.1,103.1L196.6,101.1ZM205.4,100.6L204.1,103.1L202.6,101ZM211.4,100.6L210,103.1L208.5,101ZM217.3,100.6L216,103.1L214.5,101ZM223.3,100.6L221.9,103.1L220.4,101ZM229.1,100.6L227.8,103.1L226.3,101.1ZM234.5,101L233.3,103.2L232.1,101.4ZM239.9,101.4L238.9,103.3L237.8,101.8ZM245.2,101.8L244.4,103.3L243.6,102.1ZM248.3,103.1h0.9v0.9h-0.9ZM253.7,104.7L254.2,102.5L255.8,103.8ZM259.6,104.7L260.2,102.5L261.7,103.8ZM266.1,103.1h0.9v0.9h-0.9ZM272,103.1h0.9v0.9h-0.9ZM193.4,106.7L192.1,109.1L190.6,107.1ZM199.4,106.7L198,109.1L196.6,107.1ZM205.3,106.6L204,109.1L202.6,107ZM211.3,106.6L210,109.1L208.5,107ZM217.3,106.5L216,109.1L214.5,107ZM223.3,106.5L221.9,109.1L220.4,107ZM228.7,106.9L227.5,109.1L226.2,107.3ZM234.1,107.3L233.1,109.2L231.9,107.6ZM239.4,107.7L238.6,109.3L237.7,108ZM245.1,107.9L244.4,109.3L243.6,108.1ZM247.8,110.7L248.3,108.5L249.8,109.8ZM253.7,110.7L254.2,108.5L255.8,109.8ZM260.2,109.1h0.9v0.9h-0.9ZM266.1,109.1h0.9v0.9h-0.9ZM193.3,112.7L192,115.1L190.6,113.1ZM199.3,112.7L198,115.1L196.6,113.1ZM205.3,112.6L203.9,115.1L202.5,113ZM211.3,112.6L209.9,115.1L208.5,113ZM217.3,112.6L215.9,115.1L214.4,113ZM223,112.7L221.7,115.1L220.3,113.1ZM228.4,113.1L227.3,115.1L226.1,113.4ZM233.7,113.5L232.8,115.2L231.8,113.8ZM239.2,113.8L238.4,115.2L237.6,114.1ZM241.8,116.6L242.3,114.5L243.9,115.7ZM247.8,116.6L248.3,114.5L249.8,115.7ZM254.2,115h0.9v0.9h-0.9ZM260.2,115h0.9v0.9h-0.9ZM193.2,118.7L191.9,121.1L190.6,119.1ZM199.2,118.7L197.9,121L196.5,119.1ZM205.2,118.7L203.9,121L202.5,119.1ZM211.2,118.6L209.9,121L208.5,119ZM217.1,118.6L215.8,121L214.4,119ZM222.6,119L221.4,121.1L220.2,119.3ZM228,119.3L227,121.1L225.9,119.6ZM233.3,119.8L232.5,121.2L231.7,120ZM235.9,122.6L236.4,120.4L237.9,121.7ZM241.8,122.6L242.3,120.4L243.9,121.7ZM248.3,121h0.9v0.9h-0.9ZM254.2,121h0.9v0.9h-0.9ZM193.1,124.8L191.9,127L190.6,125.1ZM199.1,124.7L197.8,127L196.5,125.1ZM205.1,124.7L203.8,127L202.5,125.1ZM211.1,124.7L209.8,127L208.4,125ZM216.7,124.8L215.6,127L214.3,125.2ZM222.2,125.2L221.2,127.1L220.1,125.5ZM227.6,125.6L226.7,127.1L225.8,125.8ZM233.3,125.8L232.5,127.2L231.7,126ZM235.9,128.5L236.4,126.4L237.9,127.7ZM241.8,128.5L242.3,126.4L243.9,127.7ZM248.3,127h0.9v0.9h-0.9ZM254.2,127h0.9v0.9h-0.9ZM193,130.8L191.8,133L190.5,131.2ZM199,130.7L197.8,133L196.5,131.1ZM205,130.7L203.8,133L202.4,131.1ZM211,130.7L209.7,133L208.4,131.1ZM216.5,131L215.4,133L214.2,131.3ZM221.9,131.3L221,133.1L220,131.6ZM227.3,131.7L226.6,133.1L225.7,132ZM229.9,134.5L230.5,132.3L232,133.6ZM235.9,134.5L236.4,132.3L237.9,133.6ZM242.3,132.9h0.9v0.9h-0.9ZM248.3,132.9h0.9v0.9h-0.9ZM192.9,136.8L191.8,139L190.5,137.2ZM198.9,136.8L197.7,139L196.5,137.1ZM204.9,136.7L203.7,139L202.4,137.1ZM210.6,136.9L209.5,139L208.3,137.2ZM216.1,137.2L215.2,139L214.1,137.5ZM221.6,137.5L220.8,139.1L219.9,137.8ZM227.3,137.7L226.6,139.1L225.7,137.9ZM229.9,140.5L230.5,138.3L232,139.6ZM236.4,138.9h0.9v0.9h-0.9ZM242.3,138.9h0.9v0.9h-0.9ZM192.8,142.8L191.7,144.9L190.5,143.2ZM198.8,142.8L197.7,144.9L196.4,143.2ZM204.8,142.8L203.6,144.9L202.4,143.1ZM210.3,143L209.3,145L208.2,143.4ZM215.9,143.3L215,145L214,143.6ZM221.4,143.6L220.6,145L219.8,143.9ZM224,146.4L224.5,144.3L226.1,145.5ZM229.9,146.4L230.5,144.3L232,145.5ZM236.4,144.8h0.9v0.9h-0.9ZM242.3,144.8h0.9v0.9h-0.9ZM188.9,150.8h0.9v0.9h-0.9ZM198.7,148.8L197.6,150.9L196.4,149.2ZM204.5,148.9L203.4,150.9L202.3,149.3ZM210.1,149.2L209.1,150.9L208.1,149.5ZM215.6,149.5L214.8,151L213.9,149.7ZM221.4,149.6L220.6,151L219.8,149.8ZM224,152.4L224.5,150.2L226.1,151.5ZM230.5,150.8h0.9v0.9h-0.9ZM236.4,150.8h0.9v0.9h-0.9ZM188.9,156.8h0.9v0.9h-0.9ZM198.6,154.9L197.5,156.9L196.4,155.2ZM204.3,155.1L203.3,156.9L202.2,155.4ZM209.9,155.3L209,156.9L208,155.6ZM215.5,155.5L214.7,157L213.9,155.8ZM218.1,158.3L218.6,156.2L220.1,157.5ZM224,158.3L224.5,156.2L226.1,157.5ZM230.5,156.8h0.9v0.9h-0.9ZM188.9,162.7h0.9v0.9h-0.9ZM198.4,160.9L197.4,162.8L196.3,161.3ZM204.1,161.1L203.1,162.9L202.1,161.4ZM209.7,161.4L208.9,162.9L208,161.6ZM215.4,161.5L214.7,162.9L213.9,161.8ZM218.1,164.3L218.6,162.1L220.1,163.4ZM224.5,162.7h0.9v0.9h-0.9ZM230.5,162.7h0.9v0.9h-0.9ZM188.9,168.7h0.9v0.9h-0.9ZM198.2,167L197.3,168.8L196.2,167.3ZM203.9,167.2L203,168.8L202.1,167.5ZM209.6,167.4L208.8,168.9L207.9,167.7ZM212.6,170.5L212.3,168.3L214.2,169ZM218.5,170.5L218.3,168.3L220.1,169ZM224.5,168.7h0.9v0.9h-0.9ZM230.5,168.7h0.9v0.9h-0.9ZM188.9,174.6h0.9v0.9h-0.9ZM198.1,173.1L197.2,174.8L196.2,173.4ZM203.8,173.3L203,174.8L202,173.5ZM209.5,173.4L208.7,174.8L207.9,173.7ZM212.6,176.5L212.3,174.3L214.2,175ZM218.5,176.5L218.3,174.3L220.1,175ZM224.5,174.6h0.9v0.9h-0.9ZM188.9,180.6h0.9v0.9h-0.9ZM198,179.2L197.1,180.8L196.1,179.4ZM203.7,179.3L202.9,180.8L202,179.5ZM209.5,179.4L208.7,180.8L207.9,179.6ZM212.6,182.4L212.3,180.2L214.2,180.9ZM218.6,180.6h0.9v0.9h-0.9ZM224.5,180.6h0.9v0.9h-0.9ZM188.9,186.6h0.9v0.9h-0.9ZM197.9,185.2L197.1,186.7L196.1,185.4ZM203.6,185.3L202.8,186.8L202,185.5ZM206.6,188.4L206.4,186.2L208.3,186.9ZM212.6,188.4L212.3,186.2L214.2,186.9ZM218.6,186.6h0.9v0.9h-0.9ZM224.5,186.6h0.9v0.9h-0.9ZM188.9,192.5h0.9v0.9h-0.9ZM197.9,191.1L197,192.7L196.1,191.4ZM203.6,191.3L202.8,192.7L202,191.5ZM206.6,194.4L206.4,192.1L208.3,192.8ZM212.6,194.4L212.3,192.1L214.2,192.8ZM218.6,192.5h0.9v0.9h-0.9ZM188.9,198.5h0.9v0.9h-0.9ZM197.8,197.1L197,198.7L196.1,197.4ZM203.6,197.3L202.8,198.7L202,197.5ZM206.6,200.3L206.4,198.1L208.3,198.8ZM212.6,200.3L212.3,198.1L214.2,198.8ZM218.6,198.5h0.9v0.9h-0.9ZM188.9,204.4h0.9v0.9h-0.9ZM197.8,203.1L197,204.6L196.1,203.4ZM203.6,203.2L202.8,204.6L202,203.5ZM206.6,206.3L206.4,204.1L208.3,204.8ZM212.6,204.4h0.9v0.9h-0.9ZM218.6,204.4h0.9v0.9h-0.9ZM188.9,210.4h0.9v0.9h-0.9ZM197.8,209.1L197,210.6L196.1,209.3ZM203.6,209.2L202.8,210.6L202,209.4ZM206.6,212.2L206.4,210L208.3,210.7ZM212.6,210.4h0.9v0.9h-0.9ZM218.6,210.4h0.9v0.9h-0.9ZM188.9,216.4h0.9v0.9h-0.9ZM197.7,215.1L196.9,216.6L196.1,215.3ZM203.6,215.2L202.8,216.6L202,215.4ZM206.6,218.2L206.4,216L208.3,216.7ZM212.6,216.4h0.9v0.9h-0.9ZM218.6,216.4h0.9v0.9h-0.9ZM188.9,222.3h0.9v0.9h-0.9ZM194.8,222.3h0.9v0.9h-0.9ZM203.6,221.1L202.8,222.5L202,221.4ZM206.6,224.2L206.4,221.9L208.3,222.6ZM212.6,222.3h0.9v0.9h-0.9ZM218.6,222.3h0.9v0.9h-0.9ZM188.9,228.3h0.9v0.9h-0.9ZM194.8,228.3h0.9v0.9h-0.9ZM200.7,230.1L200.4,227.9L202.3,228.6ZM206.6,230.1L206.4,227.9L208.3,228.6ZM212.6,228.3h0.9v0.9h-0.9ZM218.6,228.3h0.9v0.9h-0.9ZM188.9,234.2h0.9v0.9h-0.9ZM194.8,234.2h0.9v0.9h-0.9ZM200.7,236.1L200.4,233.9L202.3,234.6ZM206.6,236.1L206.4,233.9L208.3,234.6ZM212.6,234.2h0.9v0.9h-0.9ZM218.6,234.2h0.9v0.9h-0.9ZM188.9,240.2h0.9v0.9h-0.9ZM194.8,240.2h0.9v0.9h-0.9ZM200.7,242L200.4,239.8L202.3,240.5ZM206.6,242L206.4,239.8L208.3,240.5ZM212.6,240.2h0.9v0.9h-0.9ZM218.6,240.2h0.9v0.9h-0.9ZM188.9,246.2h0.9v0.9h-0.9ZM194.8,246.2h0.9v0.9h-0.9ZM203.6,245L202.8,246.4L202,245.2ZM206.6,248L206.4,245.8L208.3,246.5ZM212.6,246.2h0.9v0.9h-0.9ZM218.6,246.2h0.9v0.9h-0.9ZM188.9,252.1h0.9v0.9h-0.9ZM194.8,252.1h0.9v0.9h-0.9ZM200.7,254L200.4,251.7L202.3,252.4ZM206.6,254L206.4,251.7L208.3,252.4ZM212.6,252.1h0.9v0.9h-0.9ZM218.6,252.1h0.9v0.9h-0.9ZM188.9,258.1h0.9v0.9h-0.9ZM194.8,258.1h0.9v0.9h-0.9ZM200.8,258.1h0.9v0.9h-0.9ZM206.6,259.9L206.4,257.7L208.3,258.4ZM212.6,258.1h0.9v0.9h-0.9ZM218.6,258.1h0.9v0.9h-0.9ZM188.8,263.9h1.1v1.1h-1.1ZM194.7,263.9h1.1v1.1h-1.1ZM200.8,264h0.9v0.9h-0.9ZM206.6,265.9L206.4,263.7L208.3,264.4ZM212.6,265.9L212.3,263.7L214.2,264.4ZM218.6,264h0.9v0.9h-0.9ZM224.5,264h0.9v0.9h-0.9ZM188.8,269.9h1.1v1.1h-1.1ZM194.7,269.9h1.1v1.1h-1.1ZM200.8,270h0.9v0.9h-0.9ZM206.6,271.8L206.4,269.6L208.3,270.3ZM212.6,271.8L212.3,269.6L214.2,270.3ZM218.6,270h0.9v0.9h-0.9ZM224.5,270h0.9v0.9h-0.9ZM188.8,275.8h1.1v1.1h-1.1ZM194.7,275.8h1.1v1.1h-1.1ZM200.8,275.9h0.9v0.9h-0.9ZM206.7,275.9h0.9v0.9h-0.9ZM212.6,277.8L212.3,275.6L214.2,276.3ZM218.6,275.9h0.9v0.9h-0.9ZM224.5,275.9h0.9v0.9h-0.9ZM187.6,282.8L189.9,280.8L190.6,283.4ZM194.7,281.8h1.1v1.1h-1.1ZM200.8,281.9h0.9v0.9h-0.9ZM206.7,281.9h0.9v0.9h-0.9ZM212.6,283.8L212.3,281.5L214.2,282.2ZM218.5,283.8L218.3,281.5L220.1,282.2ZM224.5,281.9h0.9v0.9h-0.9ZM187.3,288.9L189.9,286.6L190.7,289.6ZM194.7,287.8h1.1v1.1h-1.1ZM200.7,287.8h1.1v1.1h-1.1ZM206.6,287.8h1.1v1.1h-1.1ZM212.6,287.9h0.9v0.9h-0.9ZM218.5,289.7L218.3,287.5L220.1,288.2ZM224.5,287.9h0.9v0.9h-0.9ZM230.5,287.9h0.9v0.9h-0.9ZM187,294.9L189.8,292.4L190.7,295.7ZM194.7,293.7h1.1v1.1h-1.1ZM200.7,293.7h1.1v1.1h-1.1ZM206.6,293.7h1.1v1.1h-1.1ZM212.5,293.7h1.1v1.1h-1.1ZM218.5,295.7L218.3,293.5L220.1,294.2ZM224.5,295.7L224.2,293.5L226.1,294.2ZM230.5,293.8h0.9v0.9h-0.9ZM186.7,300.9L189.8,298.2L190.8,301.8ZM193.5,300.7L195.8,298.6L196.6,301.3ZM200.7,299.7h1.1v1.1h-1.1ZM206.6,299.7h1.1v1.1h-1.1ZM212.5,299.7h1.1v1.1h-1.1ZM218.6,299.8h0.9v0.9h-0.9ZM224.5,301.6L224.2,299.4L226.1,300.1ZM230.4,301.6L230.1,299.4L232,300.1ZM236.4,299.8h0.9v0.9h-0.9ZM186.4,307L189.8,303.9L190.8,308ZM193.1,306.8L195.8,304.4L196.6,307.5ZM200.7,305.6h1.1v1.1h-1.1ZM206.6,305.6h1.1v1.1h-1.1ZM212.5,305.6h1.1v1.1h-1.1ZM218.6,305.8h0.9v0.9h-0.9ZM224.5,307.6L224.2,305.4L226.1,306.1ZM230.4,307.6L230.1,305.4L232,306.1ZM236.4,305.8h0.9v0.9h-0.9ZM186.4,312.9L189.8,309.9L190.8,313.9ZM192.8,312.8L195.8,310.1L196.7,313.7ZM200.7,311.6h1.1v1.1h-1.1ZM206.6,311.6h1.1v1.1h-1.1ZM212.6,311.7h0.9v0.9h-0.9ZM218.6,311.7h0.9v0.9h-0.9ZM224.5,311.7h0.9v0.9h-0.9ZM230.4,313.6L230.1,311.3L232,312ZM236.4,311.7h0.9v0.9h-0.9ZM242.3,311.7h0.9v0.9h-0.9ZM186.4,318.9L189.8,315.8L190.8,319.9ZM192.4,318.9L195.7,315.9L196.8,319.8ZM199.1,318.7L201.7,316.4L202.6,319.4ZM206.6,317.6h1.1v1.1h-1.1ZM212.6,317.7h0.9v0.9h-0.9ZM218.6,317.7h0.9v0.9h-0.9ZM224.5,317.7h0.9v0.9h-0.9ZM230.5,317.7h0.9v0.9h-0.9ZM236.4,317.7h0.9v0.9h-0.9ZM242.3,317.7h0.9v0.9h-0.9ZM248.3,317.7h0.9v0.9h-0.9ZM186.4,324.9L189.8,321.8L190.8,325.8ZM192.4,324.9L195.7,321.8L196.8,325.8ZM198.8,324.7L201.7,322.1L202.6,325.5ZM206.6,323.5h1.1v1.1h-1.1ZM212.6,323.6h0.9v0.9h-0.9ZM218.6,323.6h0.9v0.9h-0.9ZM224.5,323.6h0.9v0.9h-0.9ZM230.5,323.6h0.9v0.9h-0.9ZM236.4,323.6h0.9v0.9h-0.9ZM242.3,323.6h0.9v0.9h-0.9ZM248.3,323.6h0.9v0.9h-0.9ZM186.4,330.8L189.8,327.8L190.8,331.8ZM192.4,330.8L195.7,327.8L196.8,331.8ZM198.4,330.8L201.7,327.8L202.7,331.7ZM205.2,330.6L207.7,328.3L208.5,331.2ZM212.6,329.6h0.9v0.9h-0.9ZM218.6,329.6h0.9v0.9h-0.9ZM224.5,329.6h0.9v0.9h-0.9ZM230.5,329.6h0.9v0.9h-0.9ZM236.4,329.6h0.9v0.9h-0.9ZM242.3,329.6h0.9v0.9h-0.9ZM248.3,329.6h0.9v0.9h-0.9ZM254.2,329.6h0.9v0.9h-0.9ZM186.4,336.8L189.8,333.7L190.8,337.8ZM192.4,336.8L195.7,333.7L196.8,337.8ZM198.4,336.8L201.6,333.8L202.7,337.7ZM204.8,336.6L207.6,334.1L208.6,337.4ZM212.6,335.6h0.9v0.9h-0.9ZM218.6,335.6h0.9v0.9h-0.9ZM224.5,335.6h0.9v0.9h-0.9ZM230.5,335.6h0.9v0.9h-0.9ZM236.4,335.6h0.9v0.9h-0.9ZM242.3,335.6h0.9v0.9h-0.9ZM248.3,335.6h0.9v0.9h-0.9ZM254.2,335.6h0.9v0.9h-0.9ZM260.2,335.6h0.9v0.9h-0.9ZM186.4,342.7L189.8,339.7L190.8,343.7ZM192.4,342.7L195.7,339.7L196.8,343.7ZM198.3,342.7L201.6,339.7L202.7,343.7ZM204.5,342.7L207.6,339.8L208.6,343.6ZM211,342.5L213.6,340.2L214.4,343.2ZM218.6,341.5h0.9v0.9h-0.9ZM224.5,341.5h0.9v0.9h-0.9ZM230.5,341.5h0.9v0.9h-0.9ZM236.4,341.5h0.9v0.9h-0.9ZM242.3,341.5h0.9v0.9h-0.9ZM248.3,341.5h0.9v0.9h-0.9ZM254.2,341.5h0.9v0.9h-0.9ZM260.2,341.5h0.9v0.9h-0.9ZM266.1,341.5h0.9v0.9h-0.9ZM186.4,348.7L189.8,345.6L190.8,349.7ZM192.4,348.7L195.7,345.6L196.8,349.7ZM198.3,348.7L201.6,345.6L202.7,349.7ZM204.3,348.7L207.6,345.7L208.6,349.6ZM210.5,348.6L213.6,345.8L214.5,349.5ZM216.5,348.6L219.5,345.9L220.5,349.4ZM222.3,348.6L225.4,345.8L226.4,349.5ZM228.2,348.6L231.4,345.8L232.4,349.6ZM234.2,348.6L237.3,345.8L238.3,349.5ZM240.2,348.6L243.3,345.9L244.2,349.5ZM248.3,347.5h0.9v0.9h-0.9ZM254.2,347.5h0.9v0.9h-0.9ZM260.2,347.5h0.9v0.9h-0.9ZM266.1,347.5h0.9v0.9h-0.9ZM272,347.5h0.9v0.9h-0.9ZM186.4,354.7L189.8,351.6L190.8,355.6ZM192.4,354.7L195.7,351.6L196.8,355.6ZM198.3,354.7L201.6,351.6L202.7,355.6ZM204.3,354.7L207.6,351.6L208.7,355.6ZM210.2,354.6L213.5,351.6L214.6,355.6ZM216.1,354.7L219.5,351.6L220.5,355.6ZM222.1,354.7L225.4,351.6L226.5,355.6ZM228,354.7L231.3,351.6L232.4,355.6ZM234,354.6L237.3,351.6L238.3,355.6ZM240.2,354.6L243.3,351.8L244.2,355.5ZM248.3,353.4h0.9v0.9h-0.9ZM254.2,353.4h0.9v0.9h-0.9ZM260.2,353.4h0.9v0.9h-0.9ZM266.1,353.4h0.9v0.9h-0.9ZM272,353.4h0.9v0.9h-0.9ZM278,353.4h0.9v0.9h-0.9ZM186.4,360.6L189.8,357.6L190.8,361.6ZM192.4,360.6L195.7,357.6L196.8,361.6ZM198.3,360.6L201.6,357.6L202.7,361.6ZM204.3,360.6L207.6,357.6L208.7,361.6ZM210.2,360.6L213.5,357.6L214.6,361.6ZM216.1,360.6L219.5,357.6L220.5,361.6ZM222.1,360.6L225.4,357.6L226.5,361.6ZM228,360.6L231.3,357.6L232.4,361.6ZM234,360.6L237.3,357.6L238.4,361.6ZM240.1,360.6L243.2,357.7L244.3,361.5ZM248.3,359.4h0.9v0.9h-0.9ZM254.2,359.4h0.9v0.9h-0.9ZM260.2,359.4h0.9v0.9h-0.9ZM266.1,359.4h0.9v0.9h-0.9ZM272,359.4h0.9v0.9h-0.9ZM278,359.4h0.9v0.9h-0.9ZM283.9,359.4h0.9v0.9h-0.9ZM289.9,359.4h0.9v0.9h-0.9ZM192.4,366.6L195.7,363.5L196.8,367.6ZM198.3,366.6L201.6,363.5L202.7,367.6ZM204.3,366.6L207.6,363.5L208.7,367.6ZM210.2,366.6L213.5,363.5L214.6,367.6ZM216.1,366.6L219.5,363.5L220.5,367.6ZM222.1,366.6L225.4,363.5L226.5,367.6ZM228,366.6L231.3,363.5L232.4,367.6ZM234,366.6L237.3,363.5L238.4,367.6ZM240.1,366.5L243.2,363.6L244.3,367.5ZM246.2,366.5L249.2,363.8L250.2,367.3ZM254.2,365.4h0.9v0.9h-0.9ZM260.2,365.4h0.9v0.9h-0.9ZM266.1,365.4h0.9v0.9h-0.9ZM272,365.4h0.9v0.9h-0.9ZM278,365.4h0.9v0.9h-0.9ZM283.9,365.4h0.9v0.9h-0.9ZM289.9,365.4h0.9v0.9h-0.9ZM295.8,365.4h0.9v0.9h-0.9ZM192.4,372.5L195.7,369.5L196.8,373.5ZM198.3,372.5L201.6,369.5L202.7,373.5ZM204.3,372.5L207.6,369.5L208.7,373.5ZM210.2,372.5L213.5,369.5L214.6,373.5ZM216.1,372.5L219.5,369.5L220.5,373.5ZM222.1,372.5L225.4,369.5L226.5,373.5ZM228,372.5L231.3,369.5L232.4,373.5ZM234,372.5L237.3,369.5L238.4,373.5ZM240,372.5L243.2,369.5L244.3,373.5ZM246.1,372.5L249.2,369.7L250.2,373.3ZM254.2,371.3h0.9v0.9h-0.9ZM258.4,372.4L261.1,369.9L262,373.1ZM266.1,371.3h0.9v0.9h-0.9ZM272,371.3h0.9v0.9h-0.9ZM278,371.3h0.9v0.9h-0.9ZM283.9,371.3h0.9v0.9h-0.9ZM289.9,371.3h0.9v0.9h-0.9ZM295.8,371.3h0.9v0.9h-0.9ZM301.7,371.3h0.9v0.9h-0.9ZM307.7,371.3h0.9v0.9h-0.9ZM198.3,378.5L201.6,375.4L202.7,379.5ZM204.3,378.5L207.6,375.4L208.7,379.5ZM210.2,378.5L213.5,375.4L214.6,379.5ZM216.1,378.5L219.5,375.4L220.5,379.5ZM222.1,378.5L225.4,375.4L226.5,379.5ZM228,378.5L231.3,375.4L232.4,379.5ZM234,378.5L237.3,375.4L238.4,379.5ZM239.9,378.5L243.2,375.4L244.3,379.5ZM246.1,378.4L249.2,375.6L250.2,379.4ZM252.1,378.4L255.1,375.7L256.1,379.3ZM258.2,378.4L261.1,375.8L262,379.2ZM264.3,378.3L267.1,375.8L267.9,379.1ZM270.3,378.3L273,375.9L273.9,379ZM278,377.3h0.9v0.9h-0.9ZM283.9,377.3h0.9v0.9h-0.9ZM289.9,377.3h0.9v0.9h-0.9ZM295.8,377.3h0.9v0.9h-0.9ZM301.7,377.3h0.9v0.9h-0.9ZM307.7,377.3h0.9v0.9h-0.9ZM313.6,377.3h0.9v0.9h-0.9ZM319.6,377.3h0.9v0.9h-0.9ZM204.3,384.5L207.6,381.4L208.7,385.4ZM210.2,384.5L213.5,381.4L214.6,385.4ZM216.1,384.5L219.5,381.4L220.5,385.4ZM222.1,384.5L225.4,381.4L226.5,385.4ZM228,384.5L231.3,381.4L232.4,385.4ZM234,384.5L237.3,381.4L238.4,385.4ZM239.9,384.5L243.2,381.4L244.3,385.4ZM245.9,384.4L249.2,381.4L250.2,385.4ZM252,384.4L255.1,381.5L256.1,385.3ZM258.1,384.4L261.1,381.6L262,385.2ZM264.1,384.3L267,381.7L268,385.2ZM270.2,384.3L273,381.8L273.9,385.1ZM276.2,384.3L279,381.8L279.8,385ZM283.9,383.2h0.9v0.9h-0.9ZM289.9,383.2h0.9v0.9h-0.9ZM295.8,383.2h0.9v0.9h-0.9ZM301.7,383.2h0.9v0.9h-0.9ZM307.7,383.2h0.9v0.9h-0.9ZM313.6,383.2h0.9v0.9h-0.9ZM319.6,383.2h0.9v0.9h-0.9ZM210.2,390.4L213.5,387.4L214.6,391.4ZM216.1,390.4L219.5,387.4L220.5,391.4ZM222.1,390.4L225.4,387.4L226.5,391.4ZM228,390.4L231.3,387.4L232.4,391.4ZM234,390.4L237.3,387.4L238.4,391.4ZM239.9,390.4L243.2,387.4L244.3,391.4ZM245.8,390.4L249.2,387.4L250.2,391.4ZM251.8,390.4L255.1,387.4L256.2,391.4ZM257.9,390.4L261.1,387.5L262.1,391.3ZM264,390.3L267,387.5L268,391.2ZM270,390.3L273,387.6L273.9,391.1ZM276.1,390.3L278.9,387.7L279.8,391.1ZM282.1,390.2L284.9,387.8L285.7,391ZM289.9,389.2h0.9v0.9h-0.9ZM295.8,389.2h0.9v0.9h-0.9ZM301.7,389.2h0.9v0.9h-0.9ZM307.7,389.2h0.9v0.9h-0.9ZM313.6,389.2h0.9v0.9h-0.9ZM319.6,389.2h0.9v0.9h-0.9ZM216.1,396.4L219.5,393.3L220.5,397.4ZM222.1,396.4L225.4,393.3L226.5,397.4ZM228,396.4L231.3,393.3L232.4,397.4ZM234,396.4L237.3,393.3L238.4,397.4ZM239.9,396.4L243.2,393.3L244.3,397.4ZM245.8,396.4L249.2,393.3L250.2,397.4ZM251.8,396.4L255.1,393.3L256.2,397.4ZM257.7,396.4L261,393.3L262.1,397.4ZM263.8,396.3L267,393.4L268,397.3ZM269.9,396.3L272.9,393.5L273.9,397.2ZM275.9,396.3L278.9,393.6L279.9,397.1ZM282,396.2L284.9,393.6L285.8,397.1ZM288,396.2L290.8,393.7L291.7,397ZM294,396.2L296.8,393.7L297.6,397ZM300,396.2L302.7,393.8L303.6,396.9ZM306,396.2L308.7,393.8L309.5,396.9ZM313.6,395.2h0.9v0.9h-0.9ZM319.6,395.2h0.9v0.9h-0.9ZM222.1,402.3L225.4,399.3L226.5,403.3ZM228,402.3L231.3,399.3L232.4,403.3ZM234,402.3L237.3,399.3L238.4,403.3ZM239.9,402.3L243.2,399.3L244.3,403.3ZM245.8,402.3L249.2,399.3L250.2,403.3ZM251.8,402.3L255.1,399.3L256.2,403.3ZM257.7,402.3L261,399.3L262.1,403.3ZM263.7,402.3L267,399.3L268.1,403.3ZM269.7,402.3L272.9,399.3L274,403.3ZM275.7,402.3L278.9,399.4L279.9,403.2ZM281.8,402.2L284.8,399.5L285.8,403.1ZM287.8,402.2L290.8,399.5L291.7,403.1ZM293.8,402.2L296.7,399.6L297.7,403ZM299.8,402.2L302.7,399.6L303.6,403ZM305.8,402.2L308.6,399.7L309.5,402.9ZM313.6,401.1h0.9v0.9h-0.9ZM319.6,401.1h0.9v0.9h-0.9ZM228,408.3L231.3,405.2L232.4,409.3ZM234,408.3L237.3,405.2L238.4,409.3ZM239.9,408.3L243.2,405.2L244.3,409.3ZM245.8,408.3L249.2,405.2L250.2,409.3ZM251.8,408.3L255.1,405.2L256.2,409.3ZM257.7,408.3L261,405.2L262.1,409.3ZM263.7,408.3L267,405.2L268.1,409.3ZM269.6,408.3L272.9,405.2L274,409.3ZM275.6,408.3L278.9,405.3L279.9,409.3ZM281.6,408.3L284.8,405.3L285.8,409.2ZM287.6,408.2L290.8,405.4L291.8,409.2ZM293.6,408.2L296.7,405.4L297.7,409.1ZM299.6,408.2L302.7,405.4L303.6,409.1ZM305.7,408.2L308.6,405.5L309.5,409ZM311.8,408.1L314.6,405.6L315.5,408.9ZM319.6,407.1h0.9v0.9h-0.9ZM234,414.3L237.3,411.2L238.4,415.2ZM239.9,414.3L243.2,411.2L244.3,415.2ZM245.8,414.3L249.2,411.2L250.2,415.2ZM251.8,414.3L255.1,411.2L256.2,415.2ZM257.7,414.3L261,411.2L262.1,415.2ZM263.7,414.3L267,411.2L268.1,415.2ZM269.6,414.3L272.9,411.2L274,415.2ZM275.5,414.3L278.9,411.2L279.9,415.2ZM281.5,414.3L284.8,411.2L285.9,415.2ZM287.4,414.3L290.7,411.2L291.8,415.2ZM293.4,414.2L296.7,411.2L297.7,415.2ZM299.4,414.2L302.6,411.3L303.7,415.2ZM305.6,414.2L308.6,411.4L309.6,415ZM311.7,414.1L314.6,411.5L315.5,414.9ZM317.8,414.1L320.5,411.6L321.4,414.8ZM245.8,420.2L249.2,417.2L250.2,421.2ZM251.8,420.2L255.1,417.2L256.2,421.2ZM257.7,420.2L261,417.2L262.1,421.2ZM263.7,420.2L267,417.2L268.1,421.2ZM269.6,420.2L272.9,417.2L274,421.2ZM275.5,420.2L278.9,417.2L279.9,421.2ZM281.5,420.2L284.8,417.2L285.9,421.2ZM287.4,420.2L290.7,417.2L291.8,421.2ZM293.4,420.2L296.7,417.2L297.8,421.2ZM299.3,420.2L302.6,417.2L303.7,421.2ZM305.4,420.2L308.6,417.3L309.6,421.1ZM311.5,420.1L314.5,417.4L315.5,421ZM317.6,420.1L320.5,417.5L321.4,420.9ZM251.8,426.2L255.1,423.1L256.2,427.2ZM257.7,426.2L261,423.1L262.1,427.2ZM263.7,426.2L267,423.1L268.1,427.2ZM269.6,426.2L272.9,423.1L274,427.2ZM275.5,426.2L278.9,423.1L279.9,427.2ZM281.5,426.2L284.8,423.1L285.9,427.2ZM287.4,426.2L290.7,423.1L291.8,427.2ZM293.4,426.2L296.7,423.1L297.8,427.2ZM299.3,426.2L302.6,423.1L303.7,427.2ZM305.3,426.2L308.6,423.1L309.6,427.2ZM311.4,426.1L314.5,423.2L315.5,427.1ZM317.4,426.1L320.5,423.3L321.5,427Z" fill="#0a0a0a"/><path d="" stroke="#22ad50" stroke-width="1.0" fill="none"/><path d="M250.2,28.3L250.4,32.3L247.4,31.1ZM256.3,28.4L256.3,32.3L253.4,31ZM262.4,28.4L262.2,32.4L259.4,31ZM268.4,28.5L268.1,32.4L265.3,30.9ZM274.5,28.6L274.1,32.5L271.3,30.9ZM280.6,28.7L280,32.6L277.3,30.8ZM286.6,28.7L285.9,32.6L283.3,30.8ZM292.7,28.8L291.8,32.7L289.3,30.8ZM298.7,29L297.7,32.7L295.3,30.8ZM304.6,29.2L303.6,32.7L301.3,30.8ZM310.5,29.4L309.4,32.7L307.3,30.8ZM316.4,29.6L315.3,32.7L313.3,30.8ZM322.4,29.8L321.2,32.8L319.3,30.9ZM244.2,34.2L244.4,38.2L241.4,37.1ZM250.2,34.3L250.4,38.2L247.4,37ZM256.3,34.4L256.3,38.3L253.4,37ZM262.4,34.4L262.2,38.3L259.4,36.9ZM268.4,34.5L268.1,38.4L265.3,36.9ZM274.5,34.5L274.1,38.5L271.3,36.9ZM280.6,34.6L280,38.5L277.3,36.8ZM286.5,34.9L285.8,38.5L283.3,36.8ZM292.3,35.2L291.6,38.5L289.4,36.9ZM298.3,35.5L297.5,38.5L295.4,36.9ZM304.2,35.7L303.3,38.6L301.5,37ZM310.1,35.9L309.2,38.6L307.5,37ZM316,36L315.1,38.6L313.5,37ZM321.9,36.2L320.9,38.6L319.5,37.1ZM238.1,40.2L238.5,44.1L235.5,43.1ZM244.2,40.2L244.4,44.1L241.4,43ZM250.2,40.3L250.4,44.2L247.4,43ZM256.3,40.3L256.3,44.3L253.4,42.9ZM262.4,40.4L262.2,44.3L259.4,42.9ZM268.4,40.4L268.1,44.4L265.3,42.9ZM274.5,40.6L274,44.4L271.3,42.8ZM280.3,41L279.8,44.4L277.4,42.9ZM286.2,41.3L285.6,44.4L283.5,43ZM292,41.7L291.4,44.4L289.6,43.1ZM297.9,41.9L297.2,44.4L295.6,43.1ZM303.7,42.1L303.1,44.4L301.6,43.2ZM309.6,42.3L308.9,44.4L307.6,43.2ZM315.6,42.4L314.9,44.4L313.6,43.2ZM321.6,42.4L320.8,44.4L319.6,43.2ZM226,46L226.6,49.9L223.5,49.1ZM232,46.1L232.6,50L229.5,49.1ZM238.1,46.1L238.5,50L235.5,49ZM244.2,46.2L244.4,50.1L241.4,49ZM250.2,46.2L250.4,50.2L247.4,48.9ZM256.3,46.3L256.3,50.2L253.4,48.9ZM262.4,46.3L262.2,50.3L259.4,48.9ZM268.3,46.6L268.1,50.3L265.4,48.9ZM274.2,47L273.8,50.3L271.5,49ZM280,47.4L279.6,50.3L277.6,49ZM285.8,47.8L285.4,50.3L283.6,49.1ZM291.6,48.1L291.2,50.3L289.7,49.2ZM297.6,48.2L297.1,50.3L295.7,49.2ZM302.5,49.9h0.9v0.9h-0.9ZM308.5,49.9h0.9v0.9h-0.9ZM314.4,49.9h0.9v0.9h-0.9ZM320.4,49.9h0.9v0.9h-0.9ZM219.9,52L220.7,55.8L217.6,55.2ZM226,52L226.6,55.9L223.5,55.1ZM232,52L232.6,55.9L229.5,55ZM238.1,52.1L238.5,56L235.5,55ZM244.2,52.1L244.4,56.1L241.4,55ZM250.2,52.2L250.4,56.1L247.4,54.9ZM256.3,52.2L256.3,56.2L253.4,54.9ZM262.3,52.5L262.1,56.2L259.4,54.9ZM268.1,53L267.8,56.2L265.6,55ZM273.9,53.4L273.6,56.2L271.7,55.1ZM279.7,53.8L279.4,56.2L277.7,55.2ZM285.6,54.1L285.2,56.2L283.8,55.2ZM290.7,55.8h0.9v0.9h-0.9ZM296.6,55.8h0.9v0.9h-0.9ZM302.5,55.8h0.9v0.9h-0.9ZM308.5,55.8h0.9v0.9h-0.9ZM314.4,55.8h0.9v0.9h-0.9ZM320.4,55.8h0.9v0.9h-0.9ZM213.8,57.9L214.7,61.7L211.6,61.2ZM219.9,57.9L220.7,61.8L217.6,61.1ZM226,58L226.6,61.8L223.5,61.1ZM232,58L232.6,61.9L229.5,61ZM238.1,58L238.5,62L235.5,61ZM244.2,58.1L244.4,62L241.4,60.9ZM250.2,58.1L250.4,62.1L247.4,60.9ZM256.3,58.2L256.3,62.1L253.4,60.8ZM262.1,58.8L262,62.1L259.5,60.9ZM267.9,59.4L267.7,62.1L265.7,61.1ZM273.6,59.9L273.4,62.1L271.8,61.2ZM279.6,60L279.3,62.1L277.8,61.2ZM284.7,61.8h0.9v0.9h-0.9ZM290.7,61.8h0.9v0.9h-0.9ZM296.6,61.8h0.9v0.9h-0.9ZM302.5,61.8h0.9v0.9h-0.9ZM308.5,61.8h0.9v0.9h-0.9ZM314.4,61.8h0.9v0.9h-0.9ZM207.7,63.8L208.8,67.6L205.6,67.2ZM213.8,63.9L214.7,67.7L211.6,67.1ZM219.9,63.9L220.7,67.7L217.6,67.1ZM226,63.9L226.6,67.8L223.5,67ZM232,64L232.6,67.9L229.5,67ZM238.1,64L238.5,67.9L235.5,66.9ZM244.2,64L244.4,68L241.4,66.9ZM250.2,64.1L250.4,68L247.4,66.8ZM256.2,64.5L256.1,68.1L253.5,66.9ZM261.9,65.1L261.8,68.1L259.7,67ZM267.7,65.7L267.5,68L265.8,67.1ZM272.8,67.8h0.9v0.9h-0.9ZM278.8,67.8h0.9v0.9h-0.9ZM284.7,67.8h0.9v0.9h-0.9ZM290.7,67.8h0.9v0.9h-0.9ZM296.6,67.8h0.9v0.9h-0.9ZM302.5,67.8h0.9v0.9h-0.9ZM207.7,69.8L208.8,73.6L205.6,73.1ZM213.8,69.8L214.7,73.6L211.6,73.1ZM219.9,69.9L220.7,73.7L217.6,73ZM226,69.9L226.6,73.8L223.5,73ZM232,69.9L232.6,73.8L229.5,72.9ZM238.1,70L238.5,73.9L235.5,72.9ZM244.2,70L244.4,73.9L241.4,72.8ZM250.2,70.2L250.3,74L247.5,72.8ZM256,70.8L256,74L253.6,72.9ZM261.8,71.4L261.7,74L259.8,73.1ZM267.6,71.8L267.4,74L265.9,73.2ZM272.8,73.7h0.9v0.9h-0.9ZM278.8,73.7h0.9v0.9h-0.9ZM284.7,73.7h0.9v0.9h-0.9ZM290.7,73.7h0.9v0.9h-0.9ZM314.4,73.7h0.9v0.9h-0.9ZM320.4,73.7h0.9v0.9h-0.9ZM201.6,75.7L202.8,79.5L199.7,79.1ZM207.7,75.8L208.8,79.6L205.6,79.1ZM213.8,75.8L214.7,79.6L211.6,79ZM219.9,75.8L220.7,79.7L217.6,79ZM226,75.8L226.6,79.7L223.5,78.9ZM232,75.9L232.6,79.8L229.5,78.9ZM238.1,75.9L238.5,79.8L235.5,78.8ZM244.1,76.1L244.4,79.9L241.5,78.8ZM250,76.6L250.1,79.9L247.6,78.9ZM255.8,77.1L255.8,79.9L253.7,79ZM261.6,77.7L261.5,79.9L259.9,79.1ZM266.9,79.7h0.9v0.9h-0.9ZM272.8,79.7h0.9v0.9h-0.9ZM278.8,79.7h0.9v0.9h-0.9ZM302.5,79.7h0.9v0.9h-0.9ZM308.5,79.7h0.9v0.9h-0.9ZM314.4,79.7h0.9v0.9h-0.9ZM195.6,81.7L196.9,85.4L193.7,85.2ZM201.6,81.7L202.8,85.5L199.7,85.1ZM207.7,81.7L208.8,85.5L205.6,85.1ZM213.8,81.7L214.7,85.6L211.6,85ZM219.9,81.8L220.7,85.6L217.6,85ZM226,81.8L226.6,85.7L223.5,84.9ZM232,81.8L232.6,85.7L229.5,84.8ZM238.1,81.9L238.5,85.8L235.5,84.8ZM244,82.4L244.2,85.8L241.6,84.9ZM249.8,83L249.9,85.9L247.7,85ZM255.7,83.5L255.7,85.9L253.9,85.1ZM261.6,83.7L261.5,85.9L259.9,85.1ZM266.9,85.6h0.9v0.9h-0.9ZM290.7,85.6h0.9v0.9h-0.9ZM296.6,85.6h0.9v0.9h-0.9ZM302.5,85.6h0.9v0.9h-0.9ZM189.5,87.6L190.9,91.3L187.7,91.2ZM195.6,87.7L196.9,91.4L193.7,91.1ZM201.6,87.7L202.8,91.4L199.7,91.1ZM207.7,87.7L208.8,91.5L205.6,91ZM213.8,87.7L214.7,91.5L211.6,91ZM219.9,87.7L220.7,91.6L217.6,90.9ZM226,87.8L226.6,91.6L223.5,90.9ZM232,87.8L232.6,91.7L229.5,90.8ZM238,88.2L238.3,91.7L235.6,90.8ZM243.9,88.8L244.1,91.8L241.7,90.9ZM249.7,89.3L249.8,91.8L247.9,91ZM255.6,89.6L255.6,91.8L254,91.1ZM261,91.6h0.9v0.9h-0.9ZM284.7,91.6h0.9v0.9h-0.9ZM290.7,91.6h0.9v0.9h-0.9ZM189.5,93.7L190.9,97.3L187.8,97.1ZM195.6,93.6L196.9,97.3L193.7,97.1ZM201.6,93.6L202.8,97.4L199.7,97ZM207.7,93.6L208.8,97.4L205.6,97ZM213.8,93.7L214.7,97.5L211.6,96.9ZM219.9,93.7L220.7,97.5L217.6,96.9ZM226,93.7L226.6,97.6L223.5,96.8ZM232,94L232.5,97.7L229.6,96.8ZM237.9,94.5L238.2,97.7L235.7,96.9ZM243.7,95.1L243.9,97.7L241.9,97ZM249.6,95.6L249.6,97.7L248,97.1ZM255,97.5h0.9v0.9h-0.9ZM272.8,97.5h0.9v0.9h-0.9ZM278.8,97.5h0.9v0.9h-0.9ZM284.7,97.5h0.9v0.9h-0.9ZM189.5,99.7L190.9,103.2L187.8,103.1ZM195.6,99.7L196.9,103.3L193.7,103.1ZM201.6,99.6L202.8,103.3L199.7,103ZM207.7,99.6L208.8,103.4L205.6,102.9ZM213.8,99.6L214.7,103.4L211.6,102.9ZM219.9,99.7L220.7,103.5L217.6,102.8ZM225.9,99.8L226.6,103.6L223.5,102.8ZM231.9,100.3L232.3,103.6L229.7,102.9ZM237.7,100.9L238,103.6L235.9,102.9ZM243.6,101.4L243.7,103.7L242,103ZM249.1,103.5h0.9v0.9h-0.9ZM266.9,103.5h0.9v0.9h-0.9ZM272.8,103.5h0.9v0.9h-0.9ZM189.5,105.7L190.9,109.2L187.8,109.1ZM195.6,105.7L196.8,109.3L193.8,109ZM201.6,105.7L202.8,109.3L199.7,109ZM207.7,105.6L208.8,109.4L205.6,108.9ZM213.8,105.6L214.7,109.4L211.6,108.8ZM219.9,105.6L220.7,109.5L217.6,108.8ZM225.8,106.1L226.4,109.5L223.7,108.8ZM231.7,106.7L232.1,109.6L229.8,108.9ZM237.6,107.2L237.9,109.6L236,109ZM243.5,107.5L243.7,109.6L242,109ZM261,109.5h0.9v0.9h-0.9ZM266.9,109.5h0.9v0.9h-0.9ZM189.5,111.8L190.8,115.2L187.9,115.1ZM195.5,111.7L196.8,115.2L193.8,115ZM201.6,111.7L202.8,115.3L199.7,114.9ZM207.7,111.7L208.7,115.3L205.7,114.9ZM213.8,111.6L214.7,115.4L211.6,114.8ZM219.8,111.8L220.6,115.4L217.7,114.8ZM225.8,112.4L226.3,115.5L223.8,114.9ZM231.6,113L232,115.5L230,114.9ZM237.5,113.4L237.8,115.5L236.1,115ZM255,115.4h0.9v0.9h-0.9ZM261,115.4h0.9v0.9h-0.9ZM189.5,117.8L190.8,121.1L187.9,121ZM195.5,117.8L196.8,121.2L193.8,121ZM201.6,117.7L202.7,121.2L199.8,120.9ZM207.7,117.7L208.7,121.3L205.7,120.9ZM213.8,117.7L214.7,121.3L211.7,120.8ZM219.7,118.2L220.4,121.4L217.8,120.8ZM225.7,118.7L226.1,121.4L224,120.9ZM231.5,119.3L231.8,121.5L230.1,121ZM249.1,121.4h0.9v0.9h-0.9ZM255,121.4h0.9v0.9h-0.9ZM189.5,123.9L190.8,127.1L187.9,127ZM195.5,123.8L196.7,127.1L193.9,126.9ZM201.6,123.8L202.7,127.2L199.8,126.9ZM207.7,123.8L208.7,127.2L205.7,126.8ZM213.7,124L214.5,127.3L211.8,126.8ZM219.7,124.5L220.3,127.4L217.9,126.9ZM225.6,125L226,127.4L224.1,126.9ZM231.5,125.3L231.8,127.4L230.1,126.9ZM249.1,127.4h0.9v0.9h-0.9ZM255,127.4h0.9v0.9h-0.9ZM189.5,129.9L190.7,133.1L188,133ZM195.5,129.9L196.7,133.1L193.9,132.9ZM201.6,129.8L202.7,133.2L199.8,132.9ZM207.7,129.8L208.6,133.2L205.8,132.8ZM213.7,130.2L214.4,133.3L211.9,132.8ZM219.6,130.7L220.2,133.3L218,132.9ZM225.5,131.2L225.9,133.4L224.2,132.9ZM243.1,133.3h0.9v0.9h-0.9ZM249.1,133.3h0.9v0.9h-0.9ZM189.5,136L190.7,139L188,138.9ZM195.5,135.9L196.7,139.1L193.9,138.9ZM201.6,135.9L202.6,139.1L199.9,138.8ZM207.6,136.1L208.5,139.2L205.9,138.8ZM213.6,136.5L214.3,139.2L212,138.8ZM219.5,136.9L220,139.3L218.1,138.9ZM225.5,137.2L225.9,139.3L224.2,138.9ZM237.2,139.3h0.9v0.9h-0.9ZM243.1,139.3h0.9v0.9h-0.9ZM189.5,142L190.7,145L188,144.9ZM195.5,142L196.6,145L194,144.9ZM201.6,141.9L202.6,145.1L199.9,144.8ZM207.6,142.3L208.4,145.2L206,144.8ZM213.6,142.7L214.2,145.2L212.1,144.8ZM219.5,143.1L219.9,145.3L218.2,144.9ZM237.2,145.2h0.9v0.9h-0.9ZM243.1,145.2h0.9v0.9h-0.9ZM189.7,151.2h0.9v0.9h-0.9ZM195.5,148L196.6,151L194,150.8ZM201.5,148.2L202.5,151.1L200,150.8ZM207.5,148.5L208.3,151.1L206.1,150.8ZM213.5,148.9L214.1,151.2L212.2,150.8ZM219.5,149.1L219.9,151.2L218.2,150.8ZM231.3,151.2h0.9v0.9h-0.9ZM237.2,151.2h0.9v0.9h-0.9ZM189.7,157.2h0.9v0.9h-0.9ZM195.5,154.1L196.5,157L194,156.8ZM201.5,154.3L202.4,157L200.1,156.8ZM207.5,154.7L208.2,157.1L206.2,156.8ZM213.5,155L214,157.1L212.3,156.8ZM231.3,157.2h0.9v0.9h-0.9ZM189.7,163.1h0.9v0.9h-0.9ZM195.5,160.2L196.5,163L194.1,162.8ZM201.5,160.5L202.3,163L200.2,162.8ZM207.5,160.8L208.1,163.1L206.2,162.8ZM213.5,161L214,163.1L212.3,162.8ZM225.3,163.1h0.9v0.9h-0.9ZM231.3,163.1h0.9v0.9h-0.9ZM189.7,169.1h0.9v0.9h-0.9ZM195.5,166.3L196.4,168.9L194.2,168.8ZM201.5,166.6L202.2,169L200.2,168.8ZM207.5,166.9L208.1,169L206.3,168.8ZM225.3,169.1h0.9v0.9h-0.9ZM231.3,169.1h0.9v0.9h-0.9ZM189.7,175h0.9v0.9h-0.9ZM195.5,172.4L196.3,174.9L194.2,174.7ZM201.5,172.7L202.2,174.9L200.3,174.7ZM207.5,172.9L208.1,175L206.3,174.7ZM225.3,175h0.9v0.9h-0.9ZM189.7,181h0.9v0.9h-0.9ZM195.5,178.5L196.3,180.9L194.3,180.7ZM201.5,178.7L202.2,180.9L200.3,180.7ZM207.5,178.9L208.1,180.9L206.3,180.7ZM219.4,181h0.9v0.9h-0.9ZM225.3,181h0.9v0.9h-0.9ZM189.7,187h0.9v0.9h-0.9ZM195.5,184.5L196.3,186.8L194.3,186.7ZM201.5,184.7L202.1,186.9L200.3,186.7ZM219.4,187h0.9v0.9h-0.9ZM225.3,187h0.9v0.9h-0.9ZM189.7,192.9h0.9v0.9h-0.9ZM195.4,190.5L196.3,192.8L194.3,192.6ZM201.5,190.7L202.1,192.8L200.3,192.6ZM219.4,192.9h0.9v0.9h-0.9ZM189.7,198.9h0.9v0.9h-0.9ZM195.4,196.5L196.2,198.8L194.3,198.6ZM201.4,196.7L202.1,198.8L200.4,198.6ZM219.4,198.9h0.9v0.9h-0.9ZM189.7,204.8h0.9v0.9h-0.9ZM195.4,202.5L196.2,204.7L194.3,204.6ZM201.4,202.7L202.1,204.8L200.4,204.6ZM213.4,204.8h0.9v0.9h-0.9ZM219.4,204.8h0.9v0.9h-0.9ZM189.7,210.8h0.9v0.9h-0.9ZM195.4,208.5L196.2,210.7L194.4,210.5ZM201.4,208.7L202.1,210.7L200.4,210.5ZM213.4,210.8h0.9v0.9h-0.9ZM219.4,210.8h0.9v0.9h-0.9ZM189.7,216.8h0.9v0.9h-0.9ZM195.4,214.5L196.2,216.6L194.4,216.5ZM201.4,214.6L202.1,216.7L200.4,216.5ZM213.4,216.8h0.9v0.9h-0.9ZM219.4,216.8h0.9v0.9h-0.9ZM189.7,222.7h0.9v0.9h-0.9ZM195.6,222.7h0.9v0.9h-0.9ZM201.4,220.6L202.1,222.6L200.4,222.4ZM213.4,222.7h0.9v0.9h-0.9ZM219.4,222.7h0.9v0.9h-0.9ZM189.7,228.7h0.9v0.9h-0.9ZM195.6,228.7h0.9v0.9h-0.9ZM213.4,228.7h0.9v0.9h-0.9ZM219.4,228.7h0.9v0.9h-0.9ZM189.7,234.6h0.9v0.9h-0.9ZM195.6,234.6h0.9v0.9h-0.9ZM213.4,234.6h0.9v0.9h-0.9ZM219.4,234.6h0.9v0.9h-0.9ZM189.7,240.6h0.9v0.9h-0.9ZM195.6,240.6h0.9v0.9h-0.9ZM213.4,240.6h0.9v0.9h-0.9ZM219.4,240.6h0.9v0.9h-0.9ZM189.7,246.6h0.9v0.9h-0.9ZM195.6,246.6h0.9v0.9h-0.9ZM201.4,244.4L202.1,246.5L200.4,246.3ZM213.4,246.6h0.9v0.9h-0.9ZM219.4,246.6h0.9v0.9h-0.9ZM189.7,252.5h0.9v0.9h-0.9ZM195.6,252.5h0.9v0.9h-0.9ZM213.4,252.5h0.9v0.9h-0.9ZM219.4,252.5h0.9v0.9h-0.9ZM189.7,258.5h0.9v0.9h-0.9ZM195.6,258.5h0.9v0.9h-0.9ZM201.6,258.5h0.9v0.9h-0.9ZM213.4,258.5h0.9v0.9h-0.9ZM219.4,258.5h0.9v0.9h-0.9ZM189.7,264.5h0.9v0.9h-0.9ZM195.6,264.5h0.9v0.9h-0.9ZM201.6,264.4h0.9v0.9h-0.9ZM219.4,264.4h0.9v0.9h-0.9ZM225.3,264.4h0.9v0.9h-0.9ZM189.7,270.5h0.9v0.9h-0.9ZM195.6,270.5h0.9v0.9h-0.9ZM201.6,270.4h0.9v0.9h-0.9ZM219.4,270.4h0.9v0.9h-0.9ZM225.3,270.4h0.9v0.9h-0.9ZM189.7,276.4h0.9v0.9h-0.9ZM195.6,276.4h0.9v0.9h-0.9ZM201.6,276.3h0.9v0.9h-0.9ZM207.5,276.3h0.9v0.9h-0.9ZM219.4,276.3h0.9v0.9h-0.9ZM225.3,276.3h0.9v0.9h-0.9ZM189.7,282.4h0.9v0.9h-0.9ZM195.6,282.4h0.9v0.9h-0.9ZM201.6,282.3h0.9v0.9h-0.9ZM207.5,282.3h0.9v0.9h-0.9ZM225.3,282.3h0.9v0.9h-0.9ZM189.7,288.4h0.9v0.9h-0.9ZM195.6,288.4h0.9v0.9h-0.9ZM201.6,288.4h0.9v0.9h-0.9ZM207.5,288.4h0.9v0.9h-0.9ZM213.4,288.3h0.9v0.9h-0.9ZM225.3,288.3h0.9v0.9h-0.9ZM231.3,288.3h0.9v0.9h-0.9ZM189.7,294.3h0.9v0.9h-0.9ZM195.6,294.3h0.9v0.9h-0.9ZM201.6,294.3h0.9v0.9h-0.9ZM207.5,294.3h0.9v0.9h-0.9ZM213.4,294.3h0.9v0.9h-0.9ZM231.3,294.2h0.9v0.9h-0.9ZM189.7,300.3h0.9v0.9h-0.9ZM195.6,300.3h0.9v0.9h-0.9ZM201.6,300.3h0.9v0.9h-0.9ZM207.5,300.3h0.9v0.9h-0.9ZM213.4,300.3h0.9v0.9h-0.9ZM219.4,300.2h0.9v0.9h-0.9ZM237.2,300.2h0.9v0.9h-0.9ZM189.7,306.2h0.9v0.9h-0.9ZM195.6,306.2h0.9v0.9h-0.9ZM201.6,306.2h0.9v0.9h-0.9ZM207.5,306.2h0.9v0.9h-0.9ZM213.4,306.2h0.9v0.9h-0.9ZM219.4,306.1h0.9v0.9h-0.9ZM237.2,306.1h0.9v0.9h-0.9ZM189.7,312.2h0.9v0.9h-0.9ZM195.6,312.2h0.9v0.9h-0.9ZM201.6,312.2h0.9v0.9h-0.9ZM207.5,312.2h0.9v0.9h-0.9ZM213.4,312.1h0.9v0.9h-0.9ZM219.4,312.1h0.9v0.9h-0.9ZM225.3,312.1h0.9v0.9h-0.9ZM237.2,312.1h0.9v0.9h-0.9ZM243.1,312.1h0.9v0.9h-0.9ZM195.6,318.2h0.9v0.9h-0.9ZM201.6,318.2h0.9v0.9h-0.9ZM207.5,318.2h0.9v0.9h-0.9ZM213.4,318.1h0.9v0.9h-0.9ZM219.4,318.1h0.9v0.9h-0.9ZM225.3,318.1h0.9v0.9h-0.9ZM231.3,318.1h0.9v0.9h-0.9ZM237.2,318.1h0.9v0.9h-0.9ZM243.1,318.1h0.9v0.9h-0.9ZM249.1,318.1h0.9v0.9h-0.9ZM195.6,324.1h0.9v0.9h-0.9ZM201.6,324.1h0.9v0.9h-0.9ZM207.5,324.1h0.9v0.9h-0.9ZM213.4,324h0.9v0.9h-0.9ZM219.4,324h0.9v0.9h-0.9ZM225.3,324h0.9v0.9h-0.9ZM231.3,324h0.9v0.9h-0.9ZM237.2,324h0.9v0.9h-0.9ZM243.1,324h0.9v0.9h-0.9ZM249.1,324h0.9v0.9h-0.9ZM201.6,330.1h0.9v0.9h-0.9ZM207.5,330.1h0.9v0.9h-0.9ZM213.4,330h0.9v0.9h-0.9ZM219.4,330h0.9v0.9h-0.9ZM225.3,330h0.9v0.9h-0.9ZM231.3,330h0.9v0.9h-0.9ZM237.2,330h0.9v0.9h-0.9ZM243.1,330h0.9v0.9h-0.9ZM249.1,330h0.9v0.9h-0.9ZM255,330h0.9v0.9h-0.9ZM201.6,336.1h0.9v0.9h-0.9ZM207.5,336.1h0.9v0.9h-0.9ZM213.4,335.9h0.9v0.9h-0.9ZM219.4,335.9h0.9v0.9h-0.9ZM225.3,335.9h0.9v0.9h-0.9ZM231.3,335.9h0.9v0.9h-0.9ZM237.2,335.9h0.9v0.9h-0.9ZM243.1,335.9h0.9v0.9h-0.9ZM249.1,335.9h0.9v0.9h-0.9ZM255,335.9h0.9v0.9h-0.9ZM261,335.9h0.9v0.9h-0.9ZM207.5,342h0.9v0.9h-0.9ZM213.4,342h0.9v0.9h-0.9ZM219.4,341.9h0.9v0.9h-0.9ZM225.3,341.9h0.9v0.9h-0.9ZM231.3,341.9h0.9v0.9h-0.9ZM237.2,341.9h0.9v0.9h-0.9ZM243.1,341.9h0.9v0.9h-0.9ZM249.1,341.9h0.9v0.9h-0.9ZM255,341.9h0.9v0.9h-0.9ZM261,341.9h0.9v0.9h-0.9ZM266.9,341.9h0.9v0.9h-0.9ZM213.4,348h0.9v0.9h-0.9ZM219.4,348h0.9v0.9h-0.9ZM225.3,348h0.9v0.9h-0.9ZM231.3,348h0.9v0.9h-0.9ZM237.2,348h0.9v0.9h-0.9ZM243.1,348h0.9v0.9h-0.9ZM249.1,347.9h0.9v0.9h-0.9ZM255,347.9h0.9v0.9h-0.9ZM261,347.9h0.9v0.9h-0.9ZM266.9,347.9h0.9v0.9h-0.9ZM272.8,347.9h0.9v0.9h-0.9ZM213.4,353.9h0.9v0.9h-0.9ZM219.4,353.9h0.9v0.9h-0.9ZM225.3,353.9h0.9v0.9h-0.9ZM231.3,353.9h0.9v0.9h-0.9ZM237.2,353.9h0.9v0.9h-0.9ZM243.1,353.9h0.9v0.9h-0.9ZM249.1,353.8h0.9v0.9h-0.9ZM255,353.8h0.9v0.9h-0.9ZM261,353.8h0.9v0.9h-0.9ZM266.9,353.8h0.9v0.9h-0.9ZM272.8,353.8h0.9v0.9h-0.9ZM278.8,353.8h0.9v0.9h-0.9ZM219.4,359.9h0.9v0.9h-0.9ZM225.3,359.9h0.9v0.9h-0.9ZM231.3,359.9h0.9v0.9h-0.9ZM237.2,359.9h0.9v0.9h-0.9ZM243.1,359.9h0.9v0.9h-0.9ZM249.1,359.8h0.9v0.9h-0.9ZM255,359.8h0.9v0.9h-0.9ZM261,359.8h0.9v0.9h-0.9ZM266.9,359.8h0.9v0.9h-0.9ZM272.8,359.8h0.9v0.9h-0.9ZM278.8,359.8h0.9v0.9h-0.9ZM284.7,359.8h0.9v0.9h-0.9ZM290.7,359.8h0.9v0.9h-0.9ZM225.3,365.9h0.9v0.9h-0.9ZM231.3,365.9h0.9v0.9h-0.9ZM237.2,365.9h0.9v0.9h-0.9ZM243.1,365.9h0.9v0.9h-0.9ZM249.1,365.9h0.9v0.9h-0.9ZM255,365.8h0.9v0.9h-0.9ZM261,365.8h0.9v0.9h-0.9ZM266.9,365.8h0.9v0.9h-0.9ZM272.8,365.8h0.9v0.9h-0.9ZM278.8,365.8h0.9v0.9h-0.9ZM284.7,365.8h0.9v0.9h-0.9ZM290.7,365.8h0.9v0.9h-0.9ZM296.6,365.8h0.9v0.9h-0.9ZM231.3,371.8h0.9v0.9h-0.9ZM237.2,371.8h0.9v0.9h-0.9ZM243.1,371.8h0.9v0.9h-0.9ZM249.1,371.8h0.9v0.9h-0.9ZM255,371.7h0.9v0.9h-0.9ZM261,371.8h0.9v0.9h-0.9ZM266.9,371.7h0.9v0.9h-0.9ZM272.8,371.7h0.9v0.9h-0.9ZM278.8,371.7h0.9v0.9h-0.9ZM284.7,371.7h0.9v0.9h-0.9ZM290.7,371.7h0.9v0.9h-0.9ZM296.6,371.7h0.9v0.9h-0.9ZM302.5,371.7h0.9v0.9h-0.9ZM308.5,371.7h0.9v0.9h-0.9ZM237.2,377.8h0.9v0.9h-0.9ZM243.1,377.8h0.9v0.9h-0.9ZM249.1,377.8h0.9v0.9h-0.9ZM255,377.8h0.9v0.9h-0.9ZM261,377.8h0.9v0.9h-0.9ZM266.9,377.8h0.9v0.9h-0.9ZM272.8,377.8h0.9v0.9h-0.9ZM278.8,377.7h0.9v0.9h-0.9ZM284.7,377.7h0.9v0.9h-0.9ZM290.7,377.7h0.9v0.9h-0.9ZM296.6,377.7h0.9v0.9h-0.9ZM302.5,377.7h0.9v0.9h-0.9ZM308.5,377.7h0.9v0.9h-0.9ZM314.4,377.7h0.9v0.9h-0.9ZM320.4,377.7h0.9v0.9h-0.9ZM243.1,383.7h0.9v0.9h-0.9ZM249.1,383.7h0.9v0.9h-0.9ZM255,383.7h0.9v0.9h-0.9ZM261,383.7h0.9v0.9h-0.9ZM266.9,383.7h0.9v0.9h-0.9ZM272.8,383.7h0.9v0.9h-0.9ZM278.8,383.7h0.9v0.9h-0.9ZM284.7,383.6h0.9v0.9h-0.9ZM290.7,383.6h0.9v0.9h-0.9ZM296.6,383.6h0.9v0.9h-0.9ZM302.5,383.6h0.9v0.9h-0.9ZM308.5,383.6h0.9v0.9h-0.9ZM314.4,383.6h0.9v0.9h-0.9ZM320.4,383.6h0.9v0.9h-0.9ZM249.1,389.7h0.9v0.9h-0.9ZM255,389.7h0.9v0.9h-0.9ZM261,389.7h0.9v0.9h-0.9ZM266.9,389.7h0.9v0.9h-0.9ZM272.8,389.7h0.9v0.9h-0.9ZM278.8,389.7h0.9v0.9h-0.9ZM284.7,389.7h0.9v0.9h-0.9ZM290.7,389.6h0.9v0.9h-0.9ZM296.6,389.6h0.9v0.9h-0.9ZM302.5,389.6h0.9v0.9h-0.9ZM308.5,389.6h0.9v0.9h-0.9ZM314.4,389.6h0.9v0.9h-0.9ZM320.4,389.6h0.9v0.9h-0.9ZM255,395.7h0.9v0.9h-0.9ZM261,395.7h0.9v0.9h-0.9ZM266.9,395.7h0.9v0.9h-0.9ZM272.8,395.7h0.9v0.9h-0.9ZM278.8,395.7h0.9v0.9h-0.9ZM284.7,395.7h0.9v0.9h-0.9ZM290.7,395.7h0.9v0.9h-0.9ZM296.6,395.7h0.9v0.9h-0.9ZM302.5,395.7h0.9v0.9h-0.9ZM308.5,395.7h0.9v0.9h-0.9ZM314.4,395.6h0.9v0.9h-0.9ZM320.4,395.6h0.9v0.9h-0.9ZM266.9,401.6h0.9v0.9h-0.9ZM272.8,401.6h0.9v0.9h-0.9ZM278.8,401.6h0.9v0.9h-0.9ZM284.7,401.6h0.9v0.9h-0.9ZM290.7,401.6h0.9v0.9h-0.9ZM296.6,401.6h0.9v0.9h-0.9ZM302.5,401.6h0.9v0.9h-0.9ZM308.5,401.6h0.9v0.9h-0.9ZM314.4,401.5h0.9v0.9h-0.9ZM320.4,401.5h0.9v0.9h-0.9ZM272.8,407.6h0.9v0.9h-0.9ZM278.8,407.6h0.9v0.9h-0.9ZM284.7,407.6h0.9v0.9h-0.9ZM290.7,407.6h0.9v0.9h-0.9ZM296.6,407.6h0.9v0.9h-0.9ZM302.5,407.6h0.9v0.9h-0.9ZM308.5,407.6h0.9v0.9h-0.9ZM314.4,407.6h0.9v0.9h-0.9ZM320.4,407.5h0.9v0.9h-0.9ZM284.7,413.5h0.9v0.9h-0.9ZM290.7,413.5h0.9v0.9h-0.9ZM296.6,413.5h0.9v0.9h-0.9ZM302.5,413.5h0.9v0.9h-0.9ZM308.5,413.5h0.9v0.9h-0.9ZM314.4,413.5h0.9v0.9h-0.9ZM320.4,413.5h0.9v0.9h-0.9ZM296.6,419.5h0.9v0.9h-0.9ZM302.5,419.5h0.9v0.9h-0.9ZM308.5,419.5h0.9v0.9h-0.9ZM314.4,419.5h0.9v0.9h-0.9ZM320.4,419.5h0.9v0.9h-0.9ZM308.5,425.4h0.9v0.9h-0.9ZM314.4,425.4h0.9v0.9h-0.9ZM320.4,425.4h0.9v0.9h-0.9Z" fill="#1fb04c"/><use href="#mars"/></g><g transform="translate(0,0)" clip-path="url(#pc)"><g clip-path="url(#an)"><rect x="188.7" y="26.2" width="134" height="401" fill="#dadadc"/><path d="M199,217.4 L201,209.6 L202.9,201.9 L204.7,194.2 L206.3,186.5 L208.1,178.9 L210.1,171.3 L212,163.6 L214.4,156 L217.5,148.7 L221.3,141.7 L225.3,134.9 L229.6,128.3 L234.2,121.8 L239.3,115.8 L244.7,110 L250.4,104.6 L256.3,99.4 L262.4,94.6 L268.3,89.5 L274.1,84.2 L279.9,79 L285.8,73.6 L291.9,68.4 L298.2,63.3 L304.8,58.4 L311.7,54 L318.9,49.8 L326.3,45.9 L333.9,42.4 L342,40.3 L350.2,38.8 L358.4,37.6 L366.7,36.8 L375,36.3 L373.1,-17.9 L362.4,-17.2 L351.8,-16.2 L341.2,-14.6 L330.7,-12.6 L320.3,-10.2 L310,-7.3 L299.9,-3.9 L289.9,-0.2 L280.1,4.1 L270.4,8.7 L261,13.8 L251.8,19.2 L242.9,25.1 L234.2,31.3 L225.8,38 L217.7,44.9 L209.9,52.3 L202.5,59.9 L195.4,67.9 L188.6,76.2 L182.2,84.7 L176.2,93.6 L170.6,102.7 L165.3,112 L160.5,121.5 L156.1,131.3 L152.2,141.2 L148.6,151.3 L145.6,161.5 L142.9,171.9 L140.8,182.4 L139,192.9 L137.8,203.5 L137,214.2Z" fill="#dcaab7" filter="url(#b3)"/><path d="M210.1,171.3 L212,163.5 L214.5,155.9 L217.6,148.5 L221.5,141.4 L225.6,134.6 L229.9,127.9 L234.6,121.4 L239.8,115.3 L245.2,109.5 L251,104 L257,98.9 L263.2,94 L269,88.7 L274.9,83.5 L280.8,78.1 L286.8,72.7 L293,67.5 L299.5,62.3 L306.2,57.5 L282,3.2 L272.2,7.8 L262.7,12.8 L253.4,18.3 L244.3,24.1 L235.5,30.4 L226.9,37 L218.7,44 L210.8,51.4 L203.2,59.1 L196,67.1 L189.1,75.5 L182.7,84.1 L176.5,93 L170.8,102.2 L165.5,111.6 L160.7,121.2 L156.2,131.1 L152.2,141.1 L148.6,151.3Z" fill="#d07e93" opacity="0.75" filter="url(#b6)"/><path d="M215.4,123.1 L220.1,116 L225.1,109 L230.4,102.3 L236,95.9 L241.9,89.6 L248,83.7 L254.4,78 L261,72.5 L267.8,67.4 L274.9,62.6 L282.2,58.1 L289.6,53.9 L273.7,23.9 L264.9,28.8 L256.4,34.1 L248.1,39.8 L240,45.8 L232.3,52.1 L224.8,58.8 L217.6,65.8 L210.7,73.1 L204.2,80.7 L198,88.6 L192.1,96.7 L186.6,105.1Z" fill="#c8647d" opacity="0.6" filter="url(#b6)"/><path d="M306.2,57.5 L313.9,52.7 L321.8,48.2 L330.1,44.1 L338.7,41.1 L347.7,39.2 L356.7,37.8 L365.8,36.8 L375,36.3 L373.1,-17.9 L361.4,-17.2 L349.7,-15.9 L338.1,-14.1 L326.5,-11.7 L315.1,-8.8 L303.9,-5.3 L292.9,-1.3 L282,3.2Z" fill="#e0c2ca" opacity="0.7" filter="url(#b5)"/><path d="M181.9,107 L185.5,101.2 L189.2,95.6 L193.1,90 L197.2,84.6 L201.4,79.3 L205.8,74.1 L196.7,66.3 L192.1,71.7 L187.7,77.3 L183.4,83 L179.3,88.8 L175.4,94.8 L171.6,100.8Z" fill="#b8325a" opacity="0.75" filter="url(#b2)"/><path d="M240.8,40.1 L245.2,36.9 L249.7,33.8 L254.2,30.8 L258.8,27.8 L263.5,25 L268.2,22.3 L262.9,12.7 L257.9,15.5 L253,18.5 L248.2,21.5 L243.5,24.7 L238.8,28 L234.2,31.3Z" fill="#c0496a" opacity="0.6" filter="url(#b2)"/><path d="M188.9,141.2 L193.2,132 L198,123.1 L203.2,114.4 L208.8,106 L214.8,97.8 L221.2,90 L228,82.4 L235.1,75.2 L230.9,70.9 L223.6,78.3 L216.6,86.1 L210.1,94.1 L203.9,102.5 L198.1,111.2 L192.8,120.1 L187.9,129.3 L183.4,138.7Z" fill="#e6c8d0" opacity="0.3" filter="url(#b2_5)"/><path d="M294.2,87.1 L300.9,83.1 L307.8,79.5 L314.8,76.1 L322,73.2 L329.3,70.5 L336.7,68.2 L344.3,66.3 L351.9,64.7 L359.5,63.5 L367.3,62.6 L365.2,38.9 L356.4,39.9 L347.6,41.3 L338.9,43.1 L330.5,46.1 L322.5,50.1 L314.7,54.5 L307.3,59.2 L300.2,64.3 L293.4,69.7 L286.9,75.3Z" fill="#d9c6cb" opacity="0.7" filter="url(#b3)"/><path d="M191.6,227 L188.5,217.7 L190,208.5 L192.2,199.5 L194.2,190.6 L196.2,181.6 L198.3,172.7 L200.6,163.8 L203.1,154.9 L154.5,135.2 L150.3,146.2 L146.7,157.4 L143.7,168.8 L141.2,180.3 L139.2,191.8 L137.8,203.5 L136.9,215.2 L136.6,227Z" fill="#ddc6cd" opacity="0.7" filter="url(#b3)"/><path d="M199,217.4 L201.2,208.8 L203.3,200.3 L205.2,191.9 L207,183.5 L209.1,175.1 L211.2,166.6 L213.6,158.2 L216.8,150.2 L206.9,145.5 L203.4,154.1 L200.8,163 L198.5,171.9 L196.4,180.8 L194.4,189.7 L192.4,198.7 L190.2,207.7 L188,216.9Z" fill="#d7a2b2" opacity="0.7" filter="url(#b2)"/><path d="M201.7,255.5 L200.1,264.1 L199.7,272.6 L201.6,280.7 L210.4,286.4 L214.1,293.5 L215.1,301.8 L213.6,311.7 L210.7,322.8 L211.4,332.5 L215.5,340.5 L223,346 L239.9,343.5 L246.5,348.4 L248.9,357.3 L251.4,366.7 L255.9,374.5 L262,380.5 L269.1,385.4 L276.1,390.4 L283,395.5 L290.4,400 L299.1,401.9 L306.8,405.7 L313.1,413.3 L320.1,420.1 L327.6,426.9 L336.2,430.5 L345.2,432.3 L354.3,433.7 L363.5,434.7 L360.3,471.1 L349.5,469.9 L338.8,468.2 L328.2,466.1 L317.7,463.5 L307.3,460.4 L297.1,456.9 L287,453 L277.1,448.6 L267.4,443.7 L257.9,438.5 L248.7,432.8 L239.7,426.7 L231,420.2 L222.6,413.4 L214.6,406.2 L206.8,398.6 L199.4,390.7 L192.3,382.5 L185.6,374 L179.3,365.2 L173.4,356.1 L167.9,346.8 L162.8,337.2 L158.2,327.4 L154,317.5 L150.2,307.3 L146.9,297 L144,286.5 L141.6,276 L139.7,265.3Z" fill="#c4c8e6" filter="url(#b4)"/><path d="M201.6,236.4 L201.9,241.1 L202.4,245.8 L202.2,250.6 L201.7,255.5 L200.7,260.5 L199.8,265.6 L142,277.9 L140.8,271.6 L139.7,265.3 L138.7,259 L138,252.6 L137.4,246.2 L137,239.8Z" fill="#cfd1e8" opacity="0.8" filter="url(#b3)"/><path d="M196.2,301.9 L199.7,310 L203.5,318 L207.7,325.7 L212.2,333.3 L217.1,340.7 L222.3,347.8 L227.7,354.7 L233.5,361.4 L239.6,367.8 L245.9,373.9 L252.5,379.7 L259.4,385.3 L266.5,390.5 L273.8,395.4 L281.3,400 L289.1,404.3 L297,408.2 L305,411.7 L313.2,414.9 L297.9,457.2 L287.8,453.3 L277.9,449 L268.2,444.2 L258.8,439 L249.5,433.3 L240.6,427.3 L231.9,420.9 L223.5,414.1 L215.4,406.9 L207.6,399.4 L200.2,391.6 L193.1,383.4 L186.4,375 L180.1,366.2 L174.1,357.2 L168.6,347.9 L163.5,338.4 L158.8,328.7 L154.5,318.8Z" fill="#a2aadd" opacity="0.8" filter="url(#b6)"/><path d="M192.7,327.5 L197.3,335.6 L202.2,343.6 L207.4,351.3 L213,358.8 L218.9,366 L225.1,372.9 L231.7,379.6 L238.5,386 L245.5,392.1 L252.9,397.9 L260.4,403.4 L268.2,408.5 L251.8,434.8 L242.9,428.9 L234.2,422.7 L225.8,416 L217.7,409.1 L209.9,401.7 L202.5,394.1 L195.4,386.1 L188.6,377.8 L182.2,369.3 L176.2,360.4 L170.6,351.3 L165.3,342Z" fill="#8690d6" opacity="0.7" filter="url(#b5)"/><path d="M189.4,338 L194.4,346.3 L199.8,354.3 L205.5,362.1 L211.6,369.7 L218,377 L224.7,384 L231.7,390.7 L239,397.1 L246.5,403.1 L254.3,408.9 L252,412.1 L244.1,406.3 L236.4,400.1 L229,393.6 L221.8,386.8 L215,379.7 L208.5,372.3 L202.4,364.6 L196.5,356.6 L191,348.4 L185.9,340Z" fill="#d0d3ee" opacity="0.5" filter="url(#b2)"/><ellipse cx="234.5" cy="338" rx="5" ry="7" fill="#d98a9c" filter="url(#b2)"/><ellipse cx="213" cy="291" rx="3" ry="5" fill="#dca0b0" filter="url(#b2)"/><ellipse cx="298" cy="401" rx="3" ry="3" fill="#dcb0bc" filter="url(#b1_5)"/></g><path d="M335,43C332.5,44.2 325.4,47.3 320.2,50.2C315,53.1 308.6,57 303.7,60.4C298.8,63.8 295.2,66.9 291,70.5C286.8,74.1 282.6,78.2 278.3,82C274.1,85.8 271.1,88.6 265.5,93.5C259.9,98.4 250,106.3 244.8,111.3C239.6,116.2 237.6,119 234.4,123.2C231.2,127.4 228.2,132.1 225.5,136.6C222.8,141.1 219.9,146.1 218,150C216.1,153.9 215.2,156.3 214,160C212.8,163.7 212,167.9 211,171.9C210,175.9 209,179.6 208,183.8C207,188 206,193.5 205.2,197.2C204.3,200.9 203.5,203.6 202.9,206.1C202.3,208.6 202,210.5 201.4,212.1C200.8,213.7 199.3,214.7 199.2,215.8C199.1,216.9 199.9,217.7 200.7,218.8C201.4,219.9 203.2,221.3 203.7,222.5C204.2,223.7 204.1,224.6 203.9,226C203.7,227.4 202.5,228.7 202.3,231C202.1,233.3 202.6,237.2 202.8,239.9C203,242.6 203.6,244.8 203.6,247.3C203.6,249.8 203.2,252.3 202.8,254.8C202.4,257.3 201.7,259.7 201.3,262.2C200.9,264.7 200.3,267.1 200.3,269.6C200.3,272.1 200.8,274.8 201.3,277C201.9,279.2 202.7,281.5 203.6,283C204.5,284.5 205.6,285.8 206.6,286C207.6,286.2 208.6,285.5 209.5,284.5C210.4,283.5 211.4,281.7 211.8,280C212.2,278.3 212.1,276.1 211.8,274.1C211.6,272.1 210.9,269.3 210.3,268.2C209.7,267.1 208.6,267.2 208,267.4C207.4,267.6 207,268.7 206.9,269.6C206.8,270.5 207.2,272.1 207.3,272.6M211.8,280C212.1,281.2 213.2,284.5 213.8,287C214.4,289.5 215.1,292.3 215.5,295C215.9,297.7 216.4,299.9 216.2,303C215.9,306.1 214.8,310.8 214,313.8C213.2,316.9 212,318.6 211.6,321.3C211.2,324 211.1,327.5 211.6,330.2C212.1,332.9 213.3,335.4 214.6,337.6C215.8,339.8 217.4,342.2 219.1,343.6C220.8,345 223.1,346.1 225,345.8C226.9,345.6 229,343.5 230.3,342.1C231.6,340.7 232.6,339.6 232.6,337.6C232.6,335.6 231.5,332 230.5,330C229.5,328 227.9,326.3 226.5,325.7C225.1,325.1 223.2,325.8 222,326.5C220.8,327.2 219.5,328.6 219.1,330.2C218.7,331.8 219.1,334.6 219.8,336.1C220.5,337.6 222.2,338.9 223.5,339.1C224.8,339.3 226.8,337.5 227.5,337.2M231.5,340.5C232.1,340.7 233.8,341.7 235,341.8C236.2,341.9 237.5,341.7 238.5,341.3C239.5,340.9 240.2,340.4 240.8,339.6C241.4,338.8 241.4,336.6 241.8,336.3C242.2,336 242.8,336.8 243.5,338C244.2,339.2 245.1,341.2 246,343.6C246.9,346 248.1,349.2 248.9,352.5C249.7,355.8 250.1,360.1 251,363.3C251.9,366.5 252.5,368.8 254.4,371.5C256.4,374.2 259.7,377.3 262.7,379.8C265.7,382.3 269.3,384 272.6,386.4C275.9,388.8 279.8,391.8 282.6,393.9C285.4,396 287,397.9 289.2,398.9C291.4,399.9 294.2,400 295.8,399.7C297.4,399.4 298.6,398 299,397.2C299.4,396.4 298.6,395.1 298,394.6C297.4,394.1 296.1,394 295.5,394.2C294.9,394.4 294.7,395.7 294.5,396M299,397.2C299.4,397.2 300.4,396.5 301.5,397.5C302.6,398.5 304,400.7 305.8,403C307.6,405.3 310.2,408.8 312.4,411.3C314.6,413.8 317.3,416.4 319,418C320.7,419.6 321,419.3 322.8,421C324.6,422.7 328.8,426.8 330,428 " fill="none" stroke="#6d6d74" stroke-width="0.7"/><use href="#mars"/></g><g transform="translate(147.2,0)" clip-path="url(#pc)"><g clip-path="url(#an)"><rect x="188.7" y="26.2" width="134" height="401" fill="#dadadc"/><path d="M188.5,278.8 L190.9,287.1 L193.7,295.4 L196.9,303.5 L200.4,311.5 L204.2,319.3 L208.4,327 L213,334.5 L217.8,341.7 L223,348.8 L228.4,355.6 L234.2,362.1 L240.2,368.4 L246.5,374.5 L253.1,380.2 L259.9,385.7 L266.9,390.8 L274.2,395.7 L281.6,400.2 L289.3,404.4 L297.1,408.3 L305.1,411.8 L313.2,414.9 L321.5,417.7 L329.9,420.2 L338.4,422.3 L346.9,424 L346.1,428.9 L337.3,427.1 L328.6,425 L320,422.5 L311.5,419.6 L303.2,416.4 L295,412.8 L287,408.8 L279.1,404.5 L271.5,399.9 L264.1,394.9 L256.9,389.6 L249.9,384 L243.2,378.1 L236.7,372 L230.5,365.5 L224.6,358.8 L219,351.8 L213.7,344.6 L208.8,337.1 L204.1,329.5 L199.8,321.7 L195.9,313.6 L192.3,305.5 L189,297.1 L186.1,288.6 L183.6,280.1Z" fill="#c8cbea" opacity="0.44999999999999996" filter="url(#b2)"/><path d="M192.2,315.3 L196.3,323.5 L200.7,331.5 L205.4,339.3 L210.4,346.9 L215.8,354.2 L221.5,361.3 L227.6,368.2 L233.9,374.8 L240.5,381.1 L247.3,387.1 L254.4,392.8 L261.8,398.2 L269.4,403.3 L277.1,408 L285.1,412.4 L293.3,416.4 L301.7,420.1 L310.2,423.4 L318.8,426.3 L327.6,428.9 L336.4,431 L345.4,432.8 L344.5,437.7 L335.3,435.9 L326.3,433.7 L317.3,431.1 L308.5,428.1 L299.8,424.7 L291.2,420.9 L282.8,416.8 L274.6,412.3 L266.7,407.5 L258.9,402.3 L251.4,396.8 L244.1,390.9 L237.1,384.8 L230.3,378.3 L223.9,371.6 L217.7,364.6 L211.9,357.3 L206.4,349.7 L201.2,342 L196.3,334 L191.8,325.8 L187.7,317.4Z" fill="#e2c4cd" opacity="0.6000000000000001" filter="url(#b2)"/><path d="M190.3,337.5 L195.3,345.7 L200.6,353.8 L206.3,361.5 L212.4,369.1 L218.7,376.3 L225.4,383.3 L232.3,389.9 L239.6,396.3 L247.1,402.3 L254.9,408 L262.9,413.4 L271.1,418.4 L279.6,423 L288.3,427.3 L297.1,431.2 L306.1,434.7 L315.2,437.8 L324.5,440.5 L333.8,442.8 L343.3,444.6 L342.4,449.6 L332.7,447.6 L323.2,445.3 L313.7,442.5 L304.4,439.4 L295.2,435.8 L286.1,431.8 L277.3,427.5 L268.6,422.7 L260.2,417.6 L252,412.1 L244.1,406.3 L236.4,400.1 L229,393.6 L221.8,386.8 L215,379.7 L208.5,372.3 L202.4,364.6 L196.5,356.6 L191,348.4 L185.9,340Z" fill="#cacdea" opacity="0.375" filter="url(#b2)"/><path d="M194.1,358.3 L200,366.4 L206.2,374.2 L212.8,381.7 L219.7,388.9 L226.9,395.8 L234.5,402.4 L242.2,408.7 L250.3,414.6 L258.6,420.1 L267.1,425.3 L275.9,430.1 L284.9,434.5 L294,438.6 L303.3,442.2 L312.8,445.4 L322.4,448.2 L321.1,453 L311.3,450.2 L301.6,446.9 L292.1,443.2 L282.8,439.1 L273.6,434.6 L264.6,429.6 L255.9,424.4 L247.4,418.7 L239.2,412.6 L231.2,406.3 L223.6,399.5 L216.2,392.5 L209.1,385.1 L202.4,377.4 L196,369.5 L190,361.2Z" fill="#e2c4cd" opacity="0.5249999999999999" filter="url(#b2)"/><path d="M208.4,127 L213,119.5 L217.8,112.3 L223,105.2 L228.4,98.4 L234.2,91.9 L240.2,85.6 L246.5,79.5 L253.1,73.8 L259.9,68.3 L266.9,63.2 L274.2,58.3 L281.6,53.8 L289.3,49.6 L297.1,45.7 L305.1,42.2 L313.2,39.1 L321.5,36.3 L329.9,33.8 L338.4,31.7 L346.9,30 L345.9,24.1 L337.1,25.9 L328.3,28 L319.7,30.5 L311.2,33.4 L302.8,36.7 L294.6,40.3 L286.5,44.3 L278.6,48.6 L271,53.3 L263.5,58.3 L256.2,63.6 L249.2,69.2 L242.5,75.1 L236,81.3 L229.8,87.8 L223.8,94.6 L218.2,101.6 L212.9,108.8 L207.9,116.3 L203.2,124Z" fill="#cacdea" opacity="0.375" filter="url(#b2)"/><path d="M209.6,106.5 L215,99.2 L220.8,92 L226.8,85.1 L233.2,78.5 L239.8,72.2 L246.7,66.1 L253.8,60.4 L261.2,55 L268.8,49.9 L276.6,45.1 L284.7,40.7 L292.9,36.7 L301.3,33 L309.8,29.7 L318.5,26.7 L327.3,24.2 L325.7,18.4 L316.7,21 L307.8,24 L299,27.4 L290.4,31.2 L281.9,35.4 L273.6,39.9 L265.6,44.8 L257.8,50.1 L250.2,55.6 L242.8,61.5 L235.7,67.7 L228.9,74.3 L222.4,81.1 L216.2,88.2 L210.3,95.5 L204.7,103.1Z" fill="#e2c4cd" opacity="0.6000000000000001" filter="url(#b2)"/><path d="M189.4,116 L194.4,107.7 L199.8,99.7 L205.5,91.9 L211.6,84.3 L218,77 L224.7,70 L231.7,63.3 L239,56.9 L246.5,50.9 L254.3,45.1 L262.4,39.8 L270.6,34.7 L279.1,30.1 L287.8,25.8 L296.7,21.9 L305.7,18.4 L303.7,12.8 L294.4,16.4 L285.3,20.4 L276.4,24.8 L267.6,29.5 L259.1,34.7 L250.9,40.2 L242.9,46.1 L235.1,52.3 L227.6,58.9 L220.4,65.8 L213.6,73 L207,80.4 L200.8,88.2 L194.9,96.2 L189.4,104.5 L184.2,113Z" fill="#cacdea" opacity="0.375" filter="url(#b2)"/><path d="M173.2,129.8 L177.6,120.8 L182.5,112 L187.7,103.4 L193.2,95.1 L199.2,87 L205.5,79.2 L212.1,71.6 L219,64.4 L226.3,57.4 L233.8,50.8 L230,46.2 L222.2,53 L214.8,60.1 L207.7,67.6 L200.9,75.3 L194.4,83.3 L188.3,91.6 L182.6,100.2 L177.3,109 L172.3,118 L167.8,127.3Z" fill="#e2c4cd" opacity="0.44999999999999996" filter="url(#b2)"/><path d="M192.4,210.4 L193.3,202.2 L194.5,194 L196.2,185.9 L198.1,177.8 L200.4,169.9 L203.1,162 L206.1,154.3 L209.5,146.7 L213.1,139.3 L217.1,132 L221.4,124.9 L226,118 L221.1,114.6 L216.3,121.7 L211.9,129 L207.8,136.5 L204,144.2 L200.6,152 L197.5,160 L194.7,168.1 L192.3,176.3 L190.3,184.6 L188.6,193 L187.3,201.4 L186.4,209.9Z" fill="#cacdea" opacity="0.375" filter="url(#b2)"/><path d="M186.2,245L192.2,271.3M202.5,161.9L201,171.9M213.7,73.3L205.1,82.5M357.4,438.3L374.5,441.1M292.1,434.3L329.5,449.5M307.1,426.5L336.8,437.8M183.5,200.3L189.3,180.7M201.3,78.9L181.4,108M348,16.7L321.6,24M189.9,361.5L212.6,389.6M184.3,322.6L201.5,355.5M281.1,30.6L243,55.2M172.2,146.5L164.4,179.6M216.7,389.4L208.9,380.2M182.9,277.9L176.8,236M221.6,84.6L228.3,73.8M294.3,31.2L283.5,35.9M204.8,101.4L190.8,125.3M283.7,58.5L266.4,67.4M169.8,240.6L169.4,212.9M207.3,160.7L214.7,149.9M164.8,177.8L179.1,138.1M181.8,165.7L196.8,126.7M219.3,364.4L234.2,377.3M289.5,37.4L269.8,46.8M329.1,435.7L372.2,439.7M236.4,372.4L218.2,348M176.2,169.1L191.4,136.6M233.5,359.5L223.7,347.5M149.3,246.5L150.3,263.1M232.4,106.2L244.9,95.9M193.9,140.2L214.2,102.7M244.4,357.8L230.7,340.9M209.1,339L215.9,348.9M175.8,288.4L171.9,274.8M312.9,20L352.5,10.6M198,344.9L180.7,309.3M304,441.6L267.8,422M242.9,358.1L261.3,371.7M209.9,89.1L199.5,107.1M322.3,431.3L342.1,433.4M231.3,77.4L240.6,69.8M293,416.2L258.1,395M259.8,62.7L249.7,70.1M152.2,239.3L154.1,213.2M266,53L275.6,45.4M170.9,146.4L180.7,123.2M255.6,398L239.3,383.7M197.6,108.5L182.6,134.4M199.6,119.7L211.5,103.1M188.4,106.7L170.9,140.7M259.3,412L229.1,388.6M343.8,438L373.8,439.4M172.8,166.9L166,201.1M227,387.4L201.7,355.3M276,398.5L288.7,407.4M163.4,142.1L171.3,128M188.5,302.5L203.4,331.9M204.9,349.3L230.9,379.5M224.6,381.7L215.2,371.2M353,12.3L329.1,17.7M271.7,82L298.9,66.6M179.5,252.2L175.1,225M300.8,22.8L332.3,11.3M213.6,136.5L221.8,123.9M254.6,399.2L270.5,411.8M270.1,413.9L311.3,430.6M161.5,239.3L162.4,251.1M168.5,154.5L165.1,167.8M207.3,343.3L186.4,307.1M280.6,413.4L305.7,424.7M334.7,34.1L323.6,39.9M165.6,252.6L173.7,293.7" stroke="#d58a9e" stroke-width="2.2" fill="none" opacity="0.3" filter="url(#b1)"/><path d="M173.6,147.6L160.4,185.1M343.2,446.6L387.7,447.5M197,368.6L177.3,333.8M349.6,-1.4L327.2,1.8M232,406.5L263.3,427.1M204.4,304.4L198.5,291.1M359.5,454L335.7,450.3M194.7,340.7L181.3,307.8M313.6,3.7L337.4,-3.9M182,101.5L192.2,86.2M187.8,282.6L198.3,310M323.2,453.5L311,447.7M265.3,425.6L245.1,414.8M192.1,282.6L198.8,303.7M181.2,227.4L179.5,214M175.4,317L192.8,352.2M178.7,314L170.2,294.4M219.6,374.9L238.2,395.3M255.7,419.1L219.2,391.2M232.4,105.5L214,133.5M166.3,265L173.1,282.8M187.1,243.4L188.4,231.5M259.5,384.1L240.4,368M286.3,435.5L265.1,421.6M182.1,200.1L180.8,228.9M251.9,53.5L271.6,40M331.8,-2.3L366.3,-4.1M295.1,427.6L265,414.5M189.6,301.1L184.5,283.8M334.9,-0.6L368.5,-5M285.7,426.2L261.1,414.7M353.3,449.8L374.7,449.9M232,350.3L209.9,316.7M185.6,137.1L204.5,106M180.9,207L180.7,226.9M208.5,114.2L200.3,132.5M270.1,78.9L256.7,88.6M344.4,453.2L391.4,453.3M278.6,61.1L255.8,80.5M191.1,361.8L203.5,374.5M268.3,417.9L294.1,431.8M235.4,374L212.1,348M306.6,439.1L293.2,432.2M344.5,8.3L384.5,6M261,46.2L295,27.6M255.5,380.5L230.8,351.7M152.4,247.3L154.3,213.1M275.7,401.3L258.3,386.8M339.2,457.3L364.7,461.6M156.9,294.9L152.1,269.7M211,86.3L220.6,71.6M195.4,277.9L205,302.7M309.2,416.3L275.5,396.6M168.4,235.5L168.2,259.6M227.1,122.3L238.2,111.3M182.6,274.8L192.7,308.2M228.7,78.5L209.7,96.6M269.1,22.5L300.8,8.9M207.9,322.7L225.4,345.2M189,209.6L192.7,178M218.6,61.2L199.5,86.3M183.2,189.8L193.8,157.2M349.8,-0L309.1,11.8M307.2,42.6L340.5,30.2M161.8,242.6L162.6,268.2M164.7,174.3L177.5,140M231.3,114.8L212.3,140.9M304.4,42L270,64.1M197,289.4L208.2,317.5M202.8,289.5L215.8,316.9M300.1,46L317.9,36.5M253.8,36.4L287.1,17.6M307.9,36.8L290.8,46.5M254,31.2L233,43.3M208.7,81.1L183.1,112.7M180,200.8L177.6,215.1M147.7,230.1L150.4,183.1M210.7,345.3L194.8,323.8M195.6,294.9L205.7,318.7M175,262.5L172,249M196.9,222.7L197,243.8M158.9,285.6L170.5,326.3M214.8,68.4L201.1,79.6M360.5,25.1L384.5,25.3M293.6,13.8L310.8,4.6M199.4,171.9L197.9,189M195.9,142.7L203.9,121.4M226.9,376.7L243,388.9M210.4,311.4L200.5,294.9M185.8,306.2L198.9,338.7M177.7,209.6L183.2,169.3M326.1,431.9L305.2,423.6M203.8,366.6L182.2,335.1M176.3,297.4L171.1,278.4M306.1,44.4L319.7,38.9M357.1,438.2L320.1,427.6M198.9,177.7L194.9,208.6M296.7,88.8L309.1,81.9M257,335.4L253.3,331M260.3,110.2L272.3,99M219.8,243.6L219.2,235.5M246.4,341.4L240.9,334.6M322.6,389.3L316.1,386.7M211.2,265.5L208.7,251.7M288.1,362.1L278.9,355.3M238.7,138.3L245.8,127.9M325.9,73.2L334.2,70.4M212.5,230.1L213,213.6M212.7,199L214.8,188.2M266.9,98L274.2,91.9M315.2,381L306.1,376.7M314.8,75.1L327,70.3M219,154.9L222.2,148M266.6,108.3L271.7,103.6M219.3,159.9L224.8,147.8M334.1,425.6L321.9,422.3M222.1,158.7L226,150.3M219.6,272.2L217.8,265.4M329.3,410.2L317.8,406.5M308,83.5L316.2,79.6M271.2,381.1L257.8,370.5M315.6,68.4L322.3,65.8M221.2,267.8L219.8,261.8M219.8,195.4L221.3,188.6M205.5,221L207,203.2M220.7,243.2L219.9,228.9M308.5,387.3L302.1,384.2M359.8,53.3L371.2,52.2M247.2,334.8L236.9,320.4M220.6,262L218.5,250.5M326.7,66.5L339.6,62.6M327.4,67.7L342.2,63.4M219.6,213L220.3,206.8M335.9,60.5L346.9,57.8M324.8,62L336.5,58.5M232.1,338.5L226.4,330.4M209.2,242.1L208.6,228.8M303.9,374.4L291.9,367.4M255.8,125.3L267.1,112.7M304.8,373.5L298.8,370.2M211.8,254.2L210,238.1M283.2,380.1L276.8,375.8M222,188.2L224.6,178.7M335.3,414.1L327.2,412M264.5,110.2L273.7,101.7M226.7,159.2L233.9,144.6M328.1,68.6L337.4,65.8M310.5,80.5L320,76.3M203.3,273.1L201.5,265.3M225.6,149.6L232.8,136.6M363.3,429.1L351.9,427.8M295.4,77.6L305.2,72.3M289.1,82.2L297.7,77M251.3,119.9L260.8,109.2M217.4,169L220.2,161.5M221.7,229.6L222.1,215.2M261.7,102.1L266.5,97.7" stroke="#8f98d8" stroke-width="2.2" fill="none" opacity="0.3" filter="url(#b1)"/><path d="M216.9,250.2 L217.2,242.8 L216.5,235.5 L217.1,228.2 L216,220.9 L215.2,213.5 L217.1,206.3 L219.1,199.3 L220.4,192.1 L222.1,185 L223.8,178 L225.5,170.8 L227.5,163.7 L230.3,156.9 L233.6,150.4 L237.4,144 L241.3,137.8 L245.4,131.8 L250.1,126.2 L255.1,120.8 L260.3,115.7 L265.8,111 L271.5,106.4 L277,101.8 L282.3,96.9 L287.7,92.1 L293.1,87 L298.7,82 L304.4,77.1 L310.5,72.5 L316.8,68.2 L323.4,64.2 L330.2,60.5 L337.3,57.1 L344.8,55.1 L352.4,53.6 L360.1,52.5 L367.8,51.7 L375.5,51.3 L375.1,39.3 L366.8,39.8 L358.6,40.6 L350.4,41.8 L342.3,43.4 L334.3,45.5 L326.7,49 L319.4,52.9 L312.3,57.1 L305.4,61.6 L298.9,66.5 L292.7,71.6 L286.7,76.8 L280.9,82.2 L275,87.4 L269.3,92.6 L263.4,97.6 L257.3,102.5 L251.5,107.6 L245.9,113.1 L240.6,118.9 L235.6,124.9 L231.1,131.4 L226.9,138.1 L223,144.9 L219.4,151.9 L216.4,159.2 L214.2,166.8 L212.4,174.4 L210.5,182 L208.7,189.6 L207.2,197.2 L205.2,204.8 L203.2,212.5 L204,220.5 L205.1,228.3 L204.5,236.1 L205.2,243.9 L205,251.8Z" fill="#b0b6e2" opacity="0.7" filter="url(#b1_5)"/><path d="M214.3,244.6 L213.6,237.1 L213.7,229.5 L214,222 L211.6,214.3 L214,206.8 L215.9,199.5 L217.4,192.1 L219.1,184.7 L220.9,177.4 L222.7,170 L224.7,162.7 L227.6,155.6 L231.1,148.8 L234.9,142.3 L239,135.9 L243.3,129.6 L248.2,123.8 L253.4,118.3 L258.8,113.1 L264.5,108.1 L270.4,103.5 L265.8,98.3 L259.6,103.1 L253.7,108.3 L248,113.7 L242.7,119.5 L237.6,125.6 L233.1,132.1 L228.9,138.8 L224.8,145.6 L221.2,152.7 L218.3,160 L216.1,167.7 L214.2,175.3 L212.3,183 L210.5,190.6 L209,198.3 L207,206 L204.6,213.7 L207,221.8 L206.7,229.6 L206.6,237.5 L207.4,245.3Z" fill="#7480d4" opacity="0.6" filter="url(#b1_5)"/><path d="M269.8,102.7 L275.3,97.9 L280.7,93 L286.2,88.1 L291.6,82.9 L297.3,78 L303.2,73.1 L309.4,68.4 L315.9,64.2 L322.6,60.2 L329.5,56.5 L336.7,53 L344.3,51.1 L352,49.6 L359.7,48.5 L367.5,47.7 L375.4,47.3 L375.2,41.3 L367.1,41.8 L359,42.6 L351,43.7 L343,45.2 L335.2,47.2 L327.8,50.7 L320.6,54.5 L313.6,58.6 L306.9,63 L300.5,67.7 L294.4,72.8 L288.5,77.9 L282.8,83.1 L277.1,88.2 L271.4,93.3 L265.8,98.3Z" fill="#9098da" opacity="0.45" filter="url(#b1_5)"/><path d="M376,387.9 L369,387.5 L362,386.8 L355.1,385.8 L348.2,384.5 L341.3,382.9 L334.6,381 L327.9,378.8 L321.3,376.3 L314.9,373.5 L308.6,370.5 L302.4,367.1 L296.3,363.5 L290.5,359.7 L284.8,355.6 L279.2,351.2 L273.9,346.6 L268.8,341.8 L263.9,336.8 L259.2,331.6 L254.8,326.1 L250.6,320.5 L246.6,314.7 L242.9,308.7 L239.5,302.6 L236.3,296.3 L233.4,289.9 L230.8,283.4 L228.5,276.8 L226.5,270 L224.8,263.2 L223.3,256.3 L222.2,249.4 L206,251.7 L204.6,259.8 L203.3,268.2 L204.2,276.2 L208.9,283.1 L217.1,288.5 L218.4,296.3 L218.2,305 L215.7,315.2 L214.1,325.7 L216.4,334.3 L221.2,341.4 L236.7,340.2 L247.5,341.6 L250.6,349.2 L252.5,358.4 L255.5,367.1 L260.7,373.7 L267,379.1 L273.9,383.7 L280.6,388.8 L287.3,393.8 L295.1,396.8 L303.2,399.1 L310,404.3 L316.3,411.5 L323.3,417.8 L330.5,424.8 L339.1,427.1 L347.9,428.7 L356.7,430 L365.6,430.9 L374.5,431.4Z" fill="#b8bde4" opacity="0.45" filter="url(#b2)"/><path d="M214.9,250.4 L213.4,258.5 L212,266.9 L213.2,274.8 L219.5,281.1 L225.9,287 L226.9,294.8 L225.6,304.1 L222.3,314.9 L222.1,324.7 L225.8,332.6 L232.9,338 L249.7,335.2 L256.2,339.7 L258.2,348.5 L260.4,357.7 L264.8,365.1 L270.8,370.9 L277.7,375.4 L273.1,382 L265.9,377.2 L259.7,371.2 L255,363.6 L252.5,354.1 L250.3,345.1 L243.5,340.2 L226.4,342.8 L219.2,337.1 L215.3,328.9 L215.3,318.8 L218.4,307.6 L219.5,298.1 L218.4,289.8 L211.9,283.6 L205.5,276.9 L204.2,268.7 L205.5,260 L207,251.5Z" fill="#7e89d6" opacity="0.55" filter="url(#b2)"/><path d="M235.7,295 L238.9,301.5 L242.4,307.8 L246.2,314 L250.2,320 L254.5,325.8 L259.1,331.4 L263.9,336.8 L255.9,344.3 L250.7,338.5 L245.8,332.6 L241.2,326.4 L236.9,320 L232.9,313.4 L229.2,306.6 L225.8,299.7Z" fill="#6a76d0" opacity="0.45" filter="url(#b3_5)"/><path d="M292.3,364.5 L298.8,368.5 L305.5,372.2 L312.3,375.6 L319.3,378.7 L326.5,381.4 L333.7,383.8 L329.6,397.2 L321.7,394.6 L314,391.6 L306.4,388.3 L299,384.6 L291.8,380.6 L284.7,376.3Z" fill="#6a76d2" opacity="0.4" filter="url(#b3_5)"/><path d="M271.1,368.5 L277.7,373.1 L284.3,377.8 L290.7,382.7 L297.7,386.8 L305.9,388.5 L312.9,392.4 L318.8,399.8 L325.3,406.4 L332.2,413.2 L340.5,416.1 L349,417.8 L357.6,419 L366.2,419.9 L374.9,420.4 L374.6,429.4 L365.5,428.9 L356.5,428 L347.5,426.6 L338.6,424.9 L329.9,421.9 L322.6,414.9 L315.7,408.3 L309.5,400.7 L302,396.6 L293.5,394.7 L286.2,390.4 L279.4,385.4 L272.5,380.4 L265.5,375.6Z" fill="#8a94d8" opacity="0.5" filter="url(#b2)"/></g><path d="M335,43C332.5,44.2 325.4,47.3 320.2,50.2C315,53.1 308.6,57 303.7,60.4C298.8,63.8 295.2,66.9 291,70.5C286.8,74.1 282.6,78.2 278.3,82C274.1,85.8 271.1,88.6 265.5,93.5C259.9,98.4 250,106.3 244.8,111.3C239.6,116.2 237.6,119 234.4,123.2C231.2,127.4 228.2,132.1 225.5,136.6C222.8,141.1 219.9,146.1 218,150C216.1,153.9 215.2,156.3 214,160C212.8,163.7 212,167.9 211,171.9C210,175.9 209,179.6 208,183.8C207,188 206,193.5 205.2,197.2C204.3,200.9 203.5,203.6 202.9,206.1C202.3,208.6 202,210.5 201.4,212.1C200.8,213.7 199.3,214.7 199.2,215.8C199.1,216.9 199.9,217.7 200.7,218.8C201.4,219.9 203.2,221.3 203.7,222.5C204.2,223.7 204.1,224.6 203.9,226C203.7,227.4 202.5,228.7 202.3,231C202.1,233.3 202.6,237.2 202.8,239.9C203,242.6 203.6,244.8 203.6,247.3C203.6,249.8 203.2,252.3 202.8,254.8C202.4,257.3 201.7,259.7 201.3,262.2C200.9,264.7 200.3,267.1 200.3,269.6C200.3,272.1 200.8,274.8 201.3,277C201.9,279.2 202.7,281.5 203.6,283C204.5,284.5 205.6,285.8 206.6,286C207.6,286.2 208.6,285.5 209.5,284.5C210.4,283.5 211.4,281.7 211.8,280C212.2,278.3 212.1,276.1 211.8,274.1C211.6,272.1 210.9,269.3 210.3,268.2C209.7,267.1 208.6,267.2 208,267.4C207.4,267.6 207,268.7 206.9,269.6C206.8,270.5 207.2,272.1 207.3,272.6M211.8,280C212.1,281.2 213.2,284.5 213.8,287C214.4,289.5 215.1,292.3 215.5,295C215.9,297.7 216.4,299.9 216.2,303C215.9,306.1 214.8,310.8 214,313.8C213.2,316.9 212,318.6 211.6,321.3C211.2,324 211.1,327.5 211.6,330.2C212.1,332.9 213.3,335.4 214.6,337.6C215.8,339.8 217.4,342.2 219.1,343.6C220.8,345 223.1,346.1 225,345.8C226.9,345.6 229,343.5 230.3,342.1C231.6,340.7 232.6,339.6 232.6,337.6C232.6,335.6 231.5,332 230.5,330C229.5,328 227.9,326.3 226.5,325.7C225.1,325.1 223.2,325.8 222,326.5C220.8,327.2 219.5,328.6 219.1,330.2C218.7,331.8 219.1,334.6 219.8,336.1C220.5,337.6 222.2,338.9 223.5,339.1C224.8,339.3 226.8,337.5 227.5,337.2M231.5,340.5C232.1,340.7 233.8,341.7 235,341.8C236.2,341.9 237.5,341.7 238.5,341.3C239.5,340.9 240.2,340.4 240.8,339.6C241.4,338.8 241.4,336.6 241.8,336.3C242.2,336 242.8,336.8 243.5,338C244.2,339.2 245.1,341.2 246,343.6C246.9,346 248.1,349.2 248.9,352.5C249.7,355.8 250.1,360.1 251,363.3C251.9,366.5 252.5,368.8 254.4,371.5C256.4,374.2 259.7,377.3 262.7,379.8C265.7,382.3 269.3,384 272.6,386.4C275.9,388.8 279.8,391.8 282.6,393.9C285.4,396 287,397.9 289.2,398.9C291.4,399.9 294.2,400 295.8,399.7C297.4,399.4 298.6,398 299,397.2C299.4,396.4 298.6,395.1 298,394.6C297.4,394.1 296.1,394 295.5,394.2C294.9,394.4 294.7,395.7 294.5,396M299,397.2C299.4,397.2 300.4,396.5 301.5,397.5C302.6,398.5 304,400.7 305.8,403C307.6,405.3 310.2,408.8 312.4,411.3C314.6,413.8 317.3,416.4 319,418C320.7,419.6 321,419.3 322.8,421C324.6,422.7 328.8,426.8 330,428 " fill="none" stroke="#6d6d74" stroke-width="0.7"/><use href="#mars"/></g><path d="M160.2,26.2 v8.8 M160.2,427.2 v-8.8 M145.4,26.2 v4.4 M145.4,427.2 v-4.4 M130.5,26.2 v4.4 M130.5,427.2 v-4.4 M115.7,26.2 v4.4 M115.7,427.2 v-4.4 M100.8,26.2 v4.4 M100.8,427.2 v-4.4 M86,26.2 v8.8 M86,427.2 v-8.8 M71.2,26.2 v4.4 M71.2,427.2 v-4.4 M56.3,26.2 v4.4 M56.3,427.2 v-4.4 M41.4,419.9 h2 M175.4,419.9 h-2 M41.4,405.1 h2 M175.4,405.1 h-2 M41.4,390.2 h2 M175.4,390.2 h-2 M41.4,375.4 h3.5 M175.4,375.4 h-3.5 M41.4,360.6 h2 M175.4,360.6 h-2 M41.4,345.7 h2 M175.4,345.7 h-2 M41.4,330.9 h2 M175.4,330.9 h-2 M41.4,316 h2 M175.4,316 h-2 M41.4,301.2 h2 M175.4,301.2 h-2 M41.4,286.4 h2 M175.4,286.4 h-2 M41.4,271.5 h2 M175.4,271.5 h-2 M41.4,256.7 h2 M175.4,256.7 h-2 M41.4,241.8 h2 M175.4,241.8 h-2 M41.4,227 h3.5 M175.4,227 h-3.5 M41.4,212.2 h2 M175.4,212.2 h-2 M41.4,197.3 h2 M175.4,197.3 h-2 M41.4,182.5 h2 M175.4,182.5 h-2 M41.4,167.6 h2 M175.4,167.6 h-2 M41.4,152.8 h2 M175.4,152.8 h-2 M41.4,138 h2 M175.4,138 h-2 M41.4,123.1 h2 M175.4,123.1 h-2 M41.4,108.3 h2 M175.4,108.3 h-2 M41.4,93.4 h2 M175.4,93.4 h-2 M41.4,78.6 h3.5 M175.4,78.6 h-3.5 M41.4,63.8 h2 M175.4,63.8 h-2 M41.4,48.9 h2 M175.4,48.9 h-2 M41.4,34.1 h2 M175.4,34.1 h-2" stroke="#222" stroke-width="1.1" fill="none"/><rect x="41.4" y="26.2" width="134" height="401" fill="none" stroke="#2a2a2a" stroke-width="1.15"/><path d="M307.4,26.2 v8.8 M307.4,427.2 v-8.8 M292.6,26.2 v4.4 M292.6,427.2 v-4.4 M277.8,26.2 v4.4 M277.8,427.2 v-4.4 M262.9,26.2 v4.4 M262.9,427.2 v-4.4 M248.1,26.2 v4.4 M248.1,427.2 v-4.4 M233.2,26.2 v8.8 M233.2,427.2 v-8.8 M218.4,26.2 v4.4 M218.4,427.2 v-4.4 M203.6,26.2 v4.4 M203.6,427.2 v-4.4 M188.7,419.9 h2 M322.6,419.9 h-2 M188.7,405.1 h2 M322.6,405.1 h-2 M188.7,390.2 h2 M322.6,390.2 h-2 M188.7,375.4 h3.5 M322.6,375.4 h-3.5 M188.7,360.6 h2 M322.6,360.6 h-2 M188.7,345.7 h2 M322.6,345.7 h-2 M188.7,330.9 h2 M322.6,330.9 h-2 M188.7,316 h2 M322.6,316 h-2 M188.7,301.2 h2 M322.6,301.2 h-2 M188.7,286.4 h2 M322.6,286.4 h-2 M188.7,271.5 h2 M322.6,271.5 h-2 M188.7,256.7 h2 M322.6,256.7 h-2 M188.7,241.8 h2 M322.6,241.8 h-2 M188.7,227 h3.5 M322.6,227 h-3.5 M188.7,212.2 h2 M322.6,212.2 h-2 M188.7,197.3 h2 M322.6,197.3 h-2 M188.7,182.5 h2 M322.6,182.5 h-2 M188.7,167.6 h2 M322.6,167.6 h-2 M188.7,152.8 h2 M322.6,152.8 h-2 M188.7,138 h2 M322.6,138 h-2 M188.7,123.1 h2 M322.6,123.1 h-2 M188.7,108.3 h2 M322.6,108.3 h-2 M188.7,93.4 h2 M322.6,93.4 h-2 M188.7,78.6 h3.5 M322.6,78.6 h-3.5 M188.7,63.8 h2 M322.6,63.8 h-2 M188.7,48.9 h2 M322.6,48.9 h-2 M188.7,34.1 h2 M322.6,34.1 h-2" stroke="#222" stroke-width="1.1" fill="none"/><rect x="188.7" y="26.2" width="134" height="401" fill="none" stroke="#2a2a2a" stroke-width="1.15"/><path d="M454.7,26.2 v8.8 M454.7,427.2 v-8.8 M439.9,26.2 v4.4 M439.9,427.2 v-4.4 M425,26.2 v4.4 M425,427.2 v-4.4 M410.2,26.2 v4.4 M410.2,427.2 v-4.4 M395.3,26.2 v4.4 M395.3,427.2 v-4.4 M380.5,26.2 v8.8 M380.5,427.2 v-8.8 M365.7,26.2 v4.4 M365.7,427.2 v-4.4 M350.8,26.2 v4.4 M350.8,427.2 v-4.4 M335.9,419.9 h2 M469.9,419.9 h-2 M335.9,405.1 h2 M469.9,405.1 h-2 M335.9,390.2 h2 M469.9,390.2 h-2 M335.9,375.4 h3.5 M469.9,375.4 h-3.5 M335.9,360.6 h2 M469.9,360.6 h-2 M335.9,345.7 h2 M469.9,345.7 h-2 M335.9,330.9 h2 M469.9,330.9 h-2 M335.9,316 h2 M469.9,316 h-2 M335.9,301.2 h2 M469.9,301.2 h-2 M335.9,286.4 h2 M469.9,286.4 h-2 M335.9,271.5 h2 M469.9,271.5 h-2 M335.9,256.7 h2 M469.9,256.7 h-2 M335.9,241.8 h2 M469.9,241.8 h-2 M335.9,227 h3.5 M469.9,227 h-3.5 M335.9,212.2 h2 M469.9,212.2 h-2 M335.9,197.3 h2 M469.9,197.3 h-2 M335.9,182.5 h2 M469.9,182.5 h-2 M335.9,167.6 h2 M469.9,167.6 h-2 M335.9,152.8 h2 M469.9,152.8 h-2 M335.9,138 h2 M469.9,138 h-2 M335.9,123.1 h2 M469.9,123.1 h-2 M335.9,108.3 h2 M469.9,108.3 h-2 M335.9,93.4 h2 M469.9,93.4 h-2 M335.9,78.6 h3.5 M469.9,78.6 h-3.5 M335.9,63.8 h2 M469.9,63.8 h-2 M335.9,48.9 h2 M469.9,48.9 h-2 M335.9,34.1 h2 M469.9,34.1 h-2" stroke="#222" stroke-width="1.1" fill="none"/><rect x="335.9" y="26.2" width="134" height="401" fill="none" stroke="#2a2a2a" stroke-width="1.15"/><text x="46" y="15.6" font-size="22" font-weight="bold">a</text><text x="86.8" y="450.9" font-size="18" text-anchor="middle">1.0</text><text x="161" y="450.9" font-size="18" text-anchor="middle">0.5</text><text x="108.6" y="470.8" font-size="18" text-anchor="middle">x</text><text x="193.2" y="15.6" font-size="22" font-weight="bold">b</text><text x="234.1" y="450.9" font-size="18" text-anchor="middle">1.0</text><text x="308.2" y="450.9" font-size="18" text-anchor="middle">0.5</text><text x="255.9" y="470.8" font-size="18" text-anchor="middle">x</text><text x="340.5" y="15.6" font-size="22" font-weight="bold">c</text><text x="381.3" y="450.9" font-size="18" text-anchor="middle">1.0</text><text x="455.5" y="450.9" font-size="18" text-anchor="middle">0.5</text><text x="403.1" y="470.8" font-size="18" text-anchor="middle">x</text><text x="32" y="86.1" font-size="18" text-anchor="end">1</text><text x="32" y="234.5" font-size="18" text-anchor="end">0</text><text x="32" y="382.9" font-size="18" text-anchor="end">-1</text><text transform="translate(10,227) rotate(-90)" font-size="18" text-anchor="middle">z</text><rect x="483" y="87" width="13.5" height="280.5" fill="url(#cb)"/><path d="M496.5,87 h6.8 M496.5,101 h3.6 M496.5,115 h3.6 M496.5,129.1 h3.6 M496.5,143.1 h3.6 M496.5,157.1 h6.8 M496.5,171.2 h3.6 M496.5,185.2 h3.6 M496.5,199.2 h3.6 M496.5,213.2 h3.6 M496.5,227.2 h6.8 M496.5,241.3 h3.6 M496.5,255.3 h3.6 M496.5,269.3 h3.6 M496.5,283.4 h3.6 M496.5,297.4 h6.8 M496.5,311.4 h3.6 M496.5,325.4 h3.6 M496.5,339.5 h3.6 M496.5,353.5 h3.6 M496.5,367.5 h6.8" stroke="#222" stroke-width="1" fill="none"/><path d="M496.5,87 V367.5" stroke="#222" stroke-width="1" fill="none"/><text transform="translate(522,87) rotate(-90)" font-size="18" text-anchor="middle">200</text><text transform="translate(522,157) rotate(-90)" font-size="18" text-anchor="middle">100</text><text transform="translate(522,227) rotate(-90)" font-size="18" text-anchor="middle">0</text><text transform="translate(522,297) rotate(-90)" font-size="18" text-anchor="middle">-100</text><text transform="translate(522,367) rotate(-90)" font-size="18" text-anchor="middle">-200</text><text transform="translate(546.6,222) rotate(-90)" font-size="18" text-anchor="middle">v<tspan font-size="13" dy="3.5">z</tspan><tspan dy="-3.5"> [km/s]</tspan></text></svg></body></html>
